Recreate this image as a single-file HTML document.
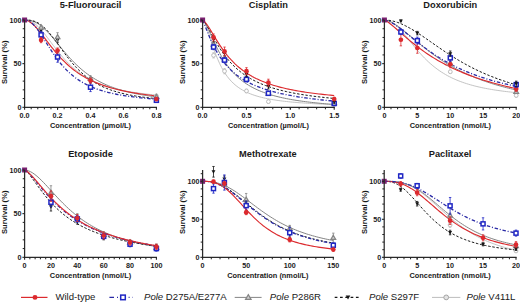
<!DOCTYPE html>
<html><head><meta charset="utf-8"><style>
html,body{margin:0;padding:0;background:#fff;width:520px;height:303px;overflow:hidden}
svg{display:block}
text{font-family:"Liberation Sans", sans-serif;fill:#1a1a1a}
</style></head><body>
<svg width="520" height="303" viewBox="0 0 520 303">
<rect width="520" height="303" fill="#fff"/>
<text x="90.5" y="7.8" font-size="9.25" font-weight="bold" text-anchor="middle">5-Fluorouracil</text>
<path d="M24.60,20.00 L26.51,20.10 L28.42,20.45 L30.33,21.09 L32.24,22.02 L34.15,23.23 L36.06,24.71 L37.97,26.45 L39.88,28.40 L41.79,30.54 L43.70,32.84 L45.61,35.24 L47.52,37.73 L49.43,40.27 L51.34,42.82 L53.25,45.37 L55.16,47.88 L57.07,50.34 L58.98,52.74 L60.89,55.07 L62.80,57.31 L64.71,59.45 L66.62,61.51 L68.53,63.46 L70.44,65.32 L72.35,67.09 L74.26,68.76 L76.17,70.34 L78.08,71.84 L79.99,73.25 L81.90,74.58 L83.81,75.84 L85.72,77.02 L87.63,78.14 L89.54,79.19 L91.46,80.18 L93.37,81.11 L95.28,81.99 L97.19,82.83 L99.10,83.61 L101.01,84.35 L102.92,85.05 L104.83,85.71 L106.74,86.33 L108.65,86.93 L110.56,87.48 L112.47,88.01 L114.38,88.52 L116.29,88.99 L118.20,89.44 L120.11,89.87 L122.02,90.28 L123.93,90.66 L125.84,91.03 L127.75,91.38 L129.66,91.71 L131.57,92.03 L133.48,92.33 L135.39,92.62 L137.30,92.89 L139.21,93.15 L141.12,93.40 L143.03,93.64 L144.94,93.87 L146.85,94.09 L148.76,94.30 L150.67,94.50 L152.58,94.69 L154.49,94.87 L156.40,95.05" fill="none" stroke="#bcbcbc" stroke-width="0.9"/>
<path d="M24.60,20.00 L26.51,20.04 L28.42,20.20 L30.33,20.51 L32.24,21.01 L34.15,21.69 L36.06,22.58 L37.97,23.67 L39.88,24.96 L41.79,26.43 L43.70,28.08 L45.61,29.89 L47.52,31.84 L49.43,33.90 L51.34,36.06 L53.25,38.30 L55.16,40.58 L57.07,42.90 L58.98,45.23 L60.89,47.56 L62.80,49.86 L64.71,52.12 L66.62,54.34 L68.53,56.51 L70.44,58.61 L72.35,60.65 L74.26,62.61 L76.17,64.49 L78.08,66.30 L79.99,68.03 L81.90,69.68 L83.81,71.26 L85.72,72.76 L87.63,74.19 L89.54,75.54 L91.46,76.83 L93.37,78.06 L95.28,79.22 L97.19,80.32 L99.10,81.36 L101.01,82.36 L102.92,83.29 L104.83,84.18 L106.74,85.03 L108.65,85.83 L110.56,86.59 L112.47,87.31 L114.38,87.99 L116.29,88.64 L118.20,89.26 L120.11,89.84 L122.02,90.40 L123.93,90.93 L125.84,91.43 L127.75,91.91 L129.66,92.36 L131.57,92.79 L133.48,93.21 L135.39,93.60 L137.30,93.98 L139.21,94.33 L141.12,94.67 L143.03,95.00 L144.94,95.31 L146.85,95.61 L148.76,95.89 L150.67,96.17 L152.58,96.43 L154.49,96.67 L156.40,96.91" fill="none" stroke="#858585" stroke-width="1.0"/>
<path d="M24.60,20.00 L26.51,20.02 L28.42,20.10 L30.33,20.31 L32.24,20.66 L34.15,21.19 L36.06,21.91 L37.97,22.86 L39.88,24.03 L41.79,25.42 L43.70,27.04 L45.61,28.86 L47.52,30.88 L49.43,33.07 L51.34,35.41 L53.25,37.87 L55.16,40.41 L57.07,43.01 L58.98,45.65 L60.89,48.29 L62.80,50.91 L64.71,53.49 L66.62,56.01 L68.53,58.46 L70.44,60.83 L72.35,63.11 L74.26,65.29 L76.17,67.37 L78.08,69.35 L79.99,71.23 L81.90,73.00 L83.81,74.68 L85.72,76.26 L87.63,77.75 L89.54,79.15 L91.46,80.46 L93.37,81.70 L95.28,82.86 L97.19,83.94 L99.10,84.96 L101.01,85.92 L102.92,86.82 L104.83,87.66 L106.74,88.45 L108.65,89.20 L110.56,89.89 L112.47,90.55 L114.38,91.16 L116.29,91.74 L118.20,92.29 L120.11,92.80 L122.02,93.29 L123.93,93.74 L125.84,94.17 L127.75,94.58 L129.66,94.96 L131.57,95.32 L133.48,95.66 L135.39,95.99 L137.30,96.29 L139.21,96.58 L141.12,96.86 L143.03,97.12 L144.94,97.36 L146.85,97.60 L148.76,97.82 L150.67,98.03 L152.58,98.23 L154.49,98.42 L156.40,98.61" fill="none" stroke="#151515" stroke-width="1.0" stroke-dasharray="2.5,1.7"/>
<path d="M24.60,20.00 L26.51,20.29 L28.42,21.06 L30.33,22.21 L32.24,23.69 L34.15,25.46 L36.06,27.46 L37.97,29.64 L39.88,31.97 L41.79,34.39 L43.70,36.87 L45.61,39.38 L47.52,41.89 L49.43,44.38 L51.34,46.82 L53.25,49.22 L55.16,51.54 L57.07,53.79 L58.98,55.95 L60.89,58.04 L62.80,60.03 L64.71,61.93 L66.62,63.75 L68.53,65.48 L70.44,67.13 L72.35,68.70 L74.26,70.18 L76.17,71.60 L78.08,72.94 L79.99,74.21 L81.90,75.42 L83.81,76.56 L85.72,77.65 L87.63,78.68 L89.54,79.66 L91.46,80.58 L93.37,81.47 L95.28,82.30 L97.19,83.10 L99.10,83.86 L101.01,84.58 L102.92,85.26 L104.83,85.91 L106.74,86.54 L108.65,87.13 L110.56,87.69 L112.47,88.23 L114.38,88.75 L116.29,89.24 L118.20,89.71 L120.11,90.15 L122.02,90.58 L123.93,90.99 L125.84,91.39 L127.75,91.76 L129.66,92.12 L131.57,92.47 L133.48,92.80 L135.39,93.12 L137.30,93.43 L139.21,93.72 L141.12,94.00 L143.03,94.27 L144.94,94.53 L146.85,94.78 L148.76,95.03 L150.67,95.26 L152.58,95.48 L154.49,95.70 L156.40,95.91" fill="none" stroke="#dc2a2e" stroke-width="1.15"/>
<path d="M24.60,20.00 L26.51,20.20 L28.42,20.83 L30.33,21.90 L32.24,23.40 L34.15,25.29 L36.06,27.52 L37.97,30.03 L39.88,32.75 L41.79,35.64 L43.70,38.63 L45.61,41.67 L47.52,44.72 L49.43,47.73 L51.34,50.67 L53.25,53.52 L55.16,56.27 L57.07,58.90 L58.98,61.40 L60.89,63.77 L62.80,66.01 L64.71,68.12 L66.62,70.10 L68.53,71.96 L70.44,73.70 L72.35,75.34 L74.26,76.87 L76.17,78.30 L78.08,79.64 L79.99,80.89 L81.90,82.06 L83.81,83.16 L85.72,84.18 L87.63,85.14 L89.54,86.04 L91.46,86.89 L93.37,87.68 L95.28,88.42 L97.19,89.12 L99.10,89.78 L101.01,90.40 L102.92,90.98 L104.83,91.53 L106.74,92.05 L108.65,92.54 L110.56,93.00 L112.47,93.44 L114.38,93.85 L116.29,94.24 L118.20,94.61 L120.11,94.96 L122.02,95.30 L123.93,95.61 L125.84,95.91 L127.75,96.20 L129.66,96.47 L131.57,96.73 L133.48,96.98 L135.39,97.21 L137.30,97.44 L139.21,97.65 L141.12,97.85 L143.03,98.05 L144.94,98.24 L146.85,98.41 L148.76,98.59 L150.67,98.75 L152.58,98.91 L154.49,99.06 L156.40,99.20" fill="none" stroke="#2a2aa6" stroke-width="1.3" stroke-dasharray="3.5,1.8,1,1.8"/>
<path d="M156.40,94.20 V97.70 M155.20,94.20 H157.60 M155.20,97.70 H157.60" stroke="#bcbcbc" stroke-width="0.8" fill="none"/>
<circle cx="156.40" cy="95.95" r="1.90" fill="#fff" stroke="#bcbcbc" stroke-width="1"/>
<path d="M41.08,28.73 V32.22 M39.88,28.73 H42.28 M39.88,32.22 H42.28" stroke="#151515" stroke-width="0.8" fill="none"/>
<path d="M39.12,29.03 L43.03,29.03 L41.08,32.52Z" fill="#151515"/>
<path d="M57.55,37.46 V42.70 M56.35,37.46 H58.75 M56.35,42.70 H58.75" stroke="#151515" stroke-width="0.8" fill="none"/>
<path d="M55.60,38.63 L59.51,38.63 L57.55,42.12Z" fill="#151515"/>
<path d="M90.50,79.36 V82.86 M89.30,79.36 H91.70 M89.30,82.86 H91.70" stroke="#151515" stroke-width="0.8" fill="none"/>
<path d="M88.55,79.67 L92.45,79.67 L90.50,83.15Z" fill="#151515"/>
<path d="M156.40,96.82 V100.32 M155.20,96.82 H157.60 M155.20,100.32 H157.60" stroke="#151515" stroke-width="0.8" fill="none"/>
<path d="M154.44,97.12 L158.36,97.12 L156.40,100.61Z" fill="#151515"/>
<path d="M41.08,25.67 V29.17 M39.88,25.67 H42.28 M39.88,29.17 H42.28" stroke="#858585" stroke-width="0.8" fill="none"/>
<path d="M41.08,25.02 L43.48,29.12 L38.68,29.12Z" fill="#d0d0d0" stroke="#858585" stroke-width="1.2"/>
<path d="M57.55,32.66 V41.39 M56.35,32.66 H58.75 M56.35,41.39 H58.75" stroke="#858585" stroke-width="0.8" fill="none"/>
<path d="M57.55,34.62 L59.95,38.72 L55.15,38.72Z" fill="#d0d0d0" stroke="#858585" stroke-width="1.2"/>
<path d="M90.50,75.87 V81.11 M89.30,75.87 H91.70 M89.30,81.11 H91.70" stroke="#858585" stroke-width="0.8" fill="none"/>
<path d="M90.50,76.09 L92.90,80.19 L88.10,80.19Z" fill="#d0d0d0" stroke="#858585" stroke-width="1.2"/>
<path d="M156.40,95.08 V98.57 M155.20,95.08 H157.60 M155.20,98.57 H157.60" stroke="#858585" stroke-width="0.8" fill="none"/>
<path d="M156.40,94.42 L158.80,98.52 L154.00,98.52Z" fill="#d0d0d0" stroke="#858585" stroke-width="1.2"/>
<path d="M41.08,31.35 V38.33 M39.88,31.35 H42.28 M39.88,38.33 H42.28" stroke="#1f26c4" stroke-width="0.8" fill="none"/>
<rect x="39.08" y="32.84" width="4.00" height="4.00" fill="#fff" stroke="#1f26c4" stroke-width="1.5"/>
<path d="M57.55,51.78 V62.25 M56.35,51.78 H58.75 M56.35,62.25 H58.75" stroke="#1f26c4" stroke-width="0.8" fill="none"/>
<rect x="55.55" y="55.02" width="4.00" height="4.00" fill="#fff" stroke="#1f26c4" stroke-width="1.5"/>
<path d="M90.50,82.86 V91.59 M89.30,82.86 H91.70 M89.30,91.59 H91.70" stroke="#1f26c4" stroke-width="0.8" fill="none"/>
<rect x="88.50" y="85.22" width="4.00" height="4.00" fill="#fff" stroke="#1f26c4" stroke-width="1.5"/>
<path d="M156.40,98.57 V102.06 M155.20,98.57 H157.60 M155.20,102.06 H157.60" stroke="#1f26c4" stroke-width="0.8" fill="none"/>
<rect x="154.40" y="98.32" width="4.00" height="4.00" fill="#fff" stroke="#1f26c4" stroke-width="1.5"/>
<path d="M41.08,37.46 V42.70 M39.88,37.46 H42.28 M39.88,42.70 H42.28" stroke="#dc2a2e" stroke-width="0.8" fill="none"/>
<circle cx="41.08" cy="40.08" r="2.35" fill="#dc2a2e"/>
<path d="M57.55,47.94 V53.17 M56.35,47.94 H58.75 M56.35,53.17 H58.75" stroke="#dc2a2e" stroke-width="0.8" fill="none"/>
<circle cx="57.55" cy="50.55" r="2.35" fill="#dc2a2e"/>
<path d="M90.50,77.97 V83.21 M89.30,77.97 H91.70 M89.30,83.21 H91.70" stroke="#dc2a2e" stroke-width="0.8" fill="none"/>
<circle cx="90.50" cy="80.59" r="2.35" fill="#dc2a2e"/>
<path d="M156.40,97.26 V100.75 M155.20,97.26 H157.60 M155.20,100.75 H157.60" stroke="#dc2a2e" stroke-width="0.8" fill="none"/>
<circle cx="156.40" cy="99.01" r="2.35" fill="#dc2a2e"/>
<rect x="22.10" y="17.50" width="5" height="5" fill="#7a2070"/>
<path d="M24.60,20.00 V107.30 H157.00" fill="none" stroke="#2a2a2a" stroke-width="1.25"/>
<path d="M22.40,107.30 H24.60" stroke="#222" stroke-width="1.1"/>
<text x="21.60" y="109.90" font-size="7.2" font-weight="bold" text-anchor="end">0</text>
<path d="M22.40,63.65 H24.60" stroke="#222" stroke-width="1.1"/>
<text x="21.60" y="66.25" font-size="7.2" font-weight="bold" text-anchor="end">50</text>
<path d="M22.40,20.00 H24.60" stroke="#222" stroke-width="1.1"/>
<text x="21.60" y="22.60" font-size="7.2" font-weight="bold" text-anchor="end">100</text>
<path d="M22.70,98.57 H24.60" stroke="#222" stroke-width="1"/>
<path d="M22.70,89.84 H24.60" stroke="#222" stroke-width="1"/>
<path d="M22.70,81.11 H24.60" stroke="#222" stroke-width="1"/>
<path d="M22.70,72.38 H24.60" stroke="#222" stroke-width="1"/>
<path d="M22.70,54.92 H24.60" stroke="#222" stroke-width="1"/>
<path d="M22.70,46.19 H24.60" stroke="#222" stroke-width="1"/>
<path d="M22.70,37.46 H24.60" stroke="#222" stroke-width="1"/>
<path d="M22.70,28.73 H24.60" stroke="#222" stroke-width="1"/>
<path d="M24.60,107.30 V109.70" stroke="#222" stroke-width="1.1"/>
<text x="24.60" y="118.20" font-size="7.2" font-weight="bold" text-anchor="middle">0.0</text>
<path d="M57.55,107.30 V109.70" stroke="#222" stroke-width="1.1"/>
<text x="57.55" y="118.20" font-size="7.2" font-weight="bold" text-anchor="middle">0.2</text>
<path d="M90.50,107.30 V109.70" stroke="#222" stroke-width="1.1"/>
<text x="90.50" y="118.20" font-size="7.2" font-weight="bold" text-anchor="middle">0.4</text>
<path d="M123.45,107.30 V109.70" stroke="#222" stroke-width="1.1"/>
<text x="123.45" y="118.20" font-size="7.2" font-weight="bold" text-anchor="middle">0.6</text>
<path d="M156.40,107.30 V109.70" stroke="#222" stroke-width="1.1"/>
<text x="156.40" y="118.20" font-size="7.2" font-weight="bold" text-anchor="middle">0.8</text>
<path d="M31.19,107.30 V109.30" stroke="#222" stroke-width="1"/>
<path d="M37.78,107.30 V109.30" stroke="#222" stroke-width="1"/>
<path d="M44.37,107.30 V109.30" stroke="#222" stroke-width="1"/>
<path d="M50.96,107.30 V109.30" stroke="#222" stroke-width="1"/>
<path d="M57.55,107.30 V109.30" stroke="#222" stroke-width="1"/>
<path d="M64.14,107.30 V109.30" stroke="#222" stroke-width="1"/>
<path d="M70.73,107.30 V109.30" stroke="#222" stroke-width="1"/>
<path d="M77.32,107.30 V109.30" stroke="#222" stroke-width="1"/>
<path d="M83.91,107.30 V109.30" stroke="#222" stroke-width="1"/>
<path d="M90.50,107.30 V109.30" stroke="#222" stroke-width="1"/>
<path d="M97.09,107.30 V109.30" stroke="#222" stroke-width="1"/>
<path d="M103.68,107.30 V109.30" stroke="#222" stroke-width="1"/>
<path d="M110.27,107.30 V109.30" stroke="#222" stroke-width="1"/>
<path d="M116.86,107.30 V109.30" stroke="#222" stroke-width="1"/>
<path d="M123.45,107.30 V109.30" stroke="#222" stroke-width="1"/>
<path d="M130.04,107.30 V109.30" stroke="#222" stroke-width="1"/>
<path d="M136.63,107.30 V109.30" stroke="#222" stroke-width="1"/>
<path d="M143.22,107.30 V109.30" stroke="#222" stroke-width="1"/>
<path d="M149.81,107.30 V109.30" stroke="#222" stroke-width="1"/>
<text x="90.5" y="128.00" font-size="7.4" font-weight="bold" text-anchor="middle">Concentration (µmol/L)</text>
<text transform="translate(7.20,62.30) rotate(-90)" x="0" y="0" font-size="7.6" font-weight="bold" text-anchor="middle">Survival (%)</text>
<text x="268.4" y="7.8" font-size="9.25" font-weight="bold" text-anchor="middle">Cisplatin</text>
<path d="M202.60,20.00 L204.51,22.30 L206.41,26.81 L208.32,32.36 L210.23,38.28 L212.14,44.15 L214.04,49.72 L215.95,54.88 L217.86,59.57 L219.77,63.80 L221.67,67.58 L223.58,70.95 L225.49,73.96 L227.39,76.64 L229.30,79.03 L231.21,81.16 L233.12,83.07 L235.02,84.79 L236.93,86.34 L238.84,87.73 L240.74,88.99 L242.65,90.14 L244.56,91.18 L246.47,92.13 L248.37,92.99 L250.28,93.79 L252.19,94.52 L254.10,95.19 L256.00,95.81 L257.91,96.38 L259.82,96.91 L261.72,97.40 L263.63,97.86 L265.54,98.29 L267.45,98.69 L269.35,99.06 L271.26,99.40 L273.17,99.73 L275.08,100.03 L276.98,100.32 L278.89,100.59 L280.80,100.85 L282.70,101.09 L284.61,101.31 L286.52,101.53 L288.43,101.73 L290.33,101.92 L292.24,102.10 L294.15,102.28 L296.06,102.44 L297.96,102.60 L299.87,102.75 L301.78,102.89 L303.68,103.02 L305.59,103.15 L307.50,103.28 L309.41,103.39 L311.31,103.51 L313.22,103.61 L315.13,103.72 L317.03,103.82 L318.94,103.91 L320.85,104.00 L322.76,104.09 L324.66,104.17 L326.57,104.26 L328.48,104.33 L330.39,104.41 L332.29,104.48 L334.20,104.55" fill="none" stroke="#bcbcbc" stroke-width="0.9"/>
<path d="M202.60,20.00 L204.51,21.95 L206.41,25.27 L208.32,29.19 L210.23,33.38 L212.14,37.63 L214.04,41.81 L215.95,45.84 L217.86,49.68 L219.77,53.29 L221.67,56.68 L223.58,59.83 L225.49,62.77 L227.39,65.49 L229.30,68.01 L231.21,70.35 L233.12,72.51 L235.02,74.52 L236.93,76.38 L238.84,78.11 L240.74,79.71 L242.65,81.21 L244.56,82.60 L246.47,83.89 L248.37,85.10 L250.28,86.23 L252.19,87.29 L254.10,88.28 L256.00,89.21 L257.91,90.08 L259.82,90.90 L261.72,91.67 L263.63,92.40 L265.54,93.09 L267.45,93.73 L269.35,94.35 L271.26,94.93 L273.17,95.48 L275.08,96.00 L276.98,96.49 L278.89,96.96 L280.80,97.41 L282.70,97.84 L284.61,98.24 L286.52,98.63 L288.43,99.00 L290.33,99.35 L292.24,99.69 L294.15,100.01 L296.06,100.32 L297.96,100.61 L299.87,100.90 L301.78,101.17 L303.68,101.43 L305.59,101.68 L307.50,101.92 L309.41,102.15 L311.31,102.37 L313.22,102.58 L315.13,102.79 L317.03,102.99 L318.94,103.18 L320.85,103.36 L322.76,103.54 L324.66,103.71 L326.57,103.88 L328.48,104.04 L330.39,104.19 L332.29,104.34 L334.20,104.49" fill="none" stroke="#858585" stroke-width="1.0"/>
<path d="M202.60,20.00 L204.51,24.41 L206.41,29.37 L208.32,34.19 L210.23,38.73 L212.14,42.93 L214.04,46.81 L215.95,50.37 L217.86,53.64 L219.77,56.64 L221.67,59.40 L223.58,61.94 L225.49,64.29 L227.39,66.45 L229.30,68.46 L231.21,70.32 L233.12,72.05 L235.02,73.65 L236.93,75.15 L238.84,76.55 L240.74,77.86 L242.65,79.09 L244.56,80.25 L246.47,81.33 L248.37,82.35 L250.28,83.31 L252.19,84.22 L254.10,85.08 L256.00,85.90 L257.91,86.67 L259.82,87.40 L261.72,88.10 L263.63,88.76 L265.54,89.39 L267.45,89.99 L269.35,90.56 L271.26,91.11 L273.17,91.63 L275.08,92.13 L276.98,92.61 L278.89,93.07 L280.80,93.51 L282.70,93.94 L284.61,94.34 L286.52,94.73 L288.43,95.10 L290.33,95.47 L292.24,95.81 L294.15,96.15 L296.06,96.47 L297.96,96.78 L299.87,97.08 L301.78,97.37 L303.68,97.65 L305.59,97.92 L307.50,98.18 L309.41,98.44 L311.31,98.68 L313.22,98.92 L315.13,99.15 L317.03,99.37 L318.94,99.59 L320.85,99.80 L322.76,100.00 L324.66,100.20 L326.57,100.39 L328.48,100.58 L330.39,100.76 L332.29,100.94 L334.20,101.11" fill="none" stroke="#2a2aa6" stroke-width="1.3" stroke-dasharray="3.5,1.8,1,1.8"/>
<path d="M202.60,20.00 L204.51,21.86 L206.41,24.75 L208.32,28.06 L210.23,31.55 L212.14,35.07 L214.04,38.54 L215.95,41.90 L217.86,45.13 L219.77,48.20 L221.67,51.10 L223.58,53.84 L225.49,56.42 L227.39,58.84 L229.30,61.11 L231.21,63.23 L233.12,65.23 L235.02,67.09 L236.93,68.84 L238.84,70.49 L240.74,72.03 L242.65,73.47 L244.56,74.83 L246.47,76.11 L248.37,77.32 L250.28,78.45 L252.19,79.52 L254.10,80.53 L256.00,81.48 L257.91,82.39 L259.82,83.24 L261.72,84.05 L263.63,84.82 L265.54,85.55 L267.45,86.24 L269.35,86.90 L271.26,87.53 L273.17,88.13 L275.08,88.70 L276.98,89.24 L278.89,89.76 L280.80,90.25 L282.70,90.73 L284.61,91.18 L286.52,91.61 L288.43,92.03 L290.33,92.43 L292.24,92.81 L294.15,93.18 L296.06,93.53 L297.96,93.87 L299.87,94.20 L301.78,94.51 L303.68,94.81 L305.59,95.10 L307.50,95.38 L309.41,95.65 L311.31,95.91 L313.22,96.17 L315.13,96.41 L317.03,96.64 L318.94,96.87 L320.85,97.09 L322.76,97.30 L324.66,97.51 L326.57,97.71 L328.48,97.90 L330.39,98.09 L332.29,98.27 L334.20,98.44" fill="none" stroke="#151515" stroke-width="1.0" stroke-dasharray="2.5,1.7"/>
<path d="M202.60,20.00 L204.51,21.38 L206.41,23.73 L208.32,26.54 L210.23,29.60 L212.14,32.76 L214.04,35.95 L215.95,39.09 L217.86,42.15 L219.77,45.09 L221.67,47.91 L223.58,50.59 L225.49,53.13 L227.39,55.53 L229.30,57.79 L231.21,59.92 L233.12,61.92 L235.02,63.80 L236.93,65.57 L238.84,67.23 L240.74,68.80 L242.65,70.27 L244.56,71.65 L246.47,72.95 L248.37,74.18 L250.28,75.33 L252.19,76.42 L254.10,77.45 L256.00,78.42 L257.91,79.34 L259.82,80.21 L261.72,81.04 L263.63,81.82 L265.54,82.56 L267.45,83.27 L269.35,83.94 L271.26,84.57 L273.17,85.18 L275.08,85.76 L276.98,86.30 L278.89,86.83 L280.80,87.33 L282.70,87.81 L284.61,88.27 L286.52,88.70 L288.43,89.12 L290.33,89.52 L292.24,89.91 L294.15,90.28 L296.06,90.63 L297.96,90.97 L299.87,91.30 L301.78,91.61 L303.68,91.91 L305.59,92.20 L307.50,92.48 L309.41,92.75 L311.31,93.01 L313.22,93.26 L315.13,93.50 L317.03,93.74 L318.94,93.96 L320.85,94.18 L322.76,94.39 L324.66,94.59 L326.57,94.79 L328.48,94.98 L330.39,95.16 L332.29,95.34 L334.20,95.51" fill="none" stroke="#dc2a2e" stroke-width="1.15"/>
<path d="M213.57,52.74 V57.98 M212.37,52.74 H214.77 M212.37,57.98 H214.77" stroke="#bcbcbc" stroke-width="0.8" fill="none"/>
<circle cx="213.57" cy="55.36" r="1.90" fill="#fff" stroke="#bcbcbc" stroke-width="1"/>
<path d="M224.53,68.54 V73.78 M223.33,68.54 H225.73 M223.33,73.78 H225.73" stroke="#bcbcbc" stroke-width="0.8" fill="none"/>
<circle cx="224.53" cy="71.16" r="1.90" fill="#fff" stroke="#bcbcbc" stroke-width="1"/>
<path d="M246.47,89.23 V92.72 M245.27,89.23 H247.67 M245.27,92.72 H247.67" stroke="#bcbcbc" stroke-width="0.8" fill="none"/>
<circle cx="246.47" cy="90.97" r="1.90" fill="#fff" stroke="#bcbcbc" stroke-width="1"/>
<path d="M268.40,99.88 V103.37 M267.20,99.88 H269.60 M267.20,103.37 H269.60" stroke="#bcbcbc" stroke-width="0.8" fill="none"/>
<circle cx="268.40" cy="101.63" r="1.90" fill="#fff" stroke="#bcbcbc" stroke-width="1"/>
<path d="M334.20,103.81 V105.55 M333.00,103.81 H335.40 M333.00,105.55 H335.40" stroke="#bcbcbc" stroke-width="0.8" fill="none"/>
<circle cx="334.20" cy="104.68" r="1.90" fill="#fff" stroke="#bcbcbc" stroke-width="1"/>
<path d="M213.57,41.83 V47.06 M212.37,41.83 H214.77 M212.37,47.06 H214.77" stroke="#858585" stroke-width="0.8" fill="none"/>
<path d="M213.57,42.04 L215.97,46.14 L211.17,46.14Z" fill="#d0d0d0" stroke="#858585" stroke-width="1.2"/>
<path d="M224.53,56.67 V61.90 M223.33,56.67 H225.73 M223.33,61.90 H225.73" stroke="#858585" stroke-width="0.8" fill="none"/>
<path d="M224.53,56.88 L226.93,60.98 L222.13,60.98Z" fill="#d0d0d0" stroke="#858585" stroke-width="1.2"/>
<path d="M246.47,75.87 V81.11 M245.27,75.87 H247.67 M245.27,81.11 H247.67" stroke="#858585" stroke-width="0.8" fill="none"/>
<path d="M246.47,76.09 L248.87,80.19 L244.07,80.19Z" fill="#d0d0d0" stroke="#858585" stroke-width="1.2"/>
<path d="M268.40,91.59 V95.08 M267.20,91.59 H269.60 M267.20,95.08 H269.60" stroke="#858585" stroke-width="0.8" fill="none"/>
<path d="M268.40,90.93 L270.80,95.03 L266.00,95.03Z" fill="#d0d0d0" stroke="#858585" stroke-width="1.2"/>
<path d="M334.20,102.06 V103.81 M333.00,102.06 H335.40 M333.00,103.81 H335.40" stroke="#858585" stroke-width="0.8" fill="none"/>
<path d="M334.20,100.53 L336.60,104.64 L331.80,104.64Z" fill="#d0d0d0" stroke="#858585" stroke-width="1.2"/>
<path d="M213.57,44.44 V49.68 M212.37,44.44 H214.77 M212.37,49.68 H214.77" stroke="#1f26c4" stroke-width="0.8" fill="none"/>
<rect x="211.57" y="45.06" width="4.00" height="4.00" fill="#fff" stroke="#1f26c4" stroke-width="1.5"/>
<path d="M224.53,57.54 V62.78 M223.33,57.54 H225.73 M223.33,62.78 H225.73" stroke="#1f26c4" stroke-width="0.8" fill="none"/>
<rect x="222.53" y="58.16" width="4.00" height="4.00" fill="#fff" stroke="#1f26c4" stroke-width="1.5"/>
<path d="M246.47,76.75 V81.98 M245.27,76.75 H247.67 M245.27,81.98 H247.67" stroke="#1f26c4" stroke-width="0.8" fill="none"/>
<rect x="244.47" y="77.36" width="4.00" height="4.00" fill="#fff" stroke="#1f26c4" stroke-width="1.5"/>
<path d="M268.40,91.59 V95.08 M267.20,91.59 H269.60 M267.20,95.08 H269.60" stroke="#1f26c4" stroke-width="0.8" fill="none"/>
<rect x="266.40" y="91.33" width="4.00" height="4.00" fill="#fff" stroke="#1f26c4" stroke-width="1.5"/>
<path d="M334.20,101.71 V105.20 M333.00,101.71 H335.40 M333.00,105.20 H335.40" stroke="#1f26c4" stroke-width="0.8" fill="none"/>
<rect x="332.20" y="101.46" width="4.00" height="4.00" fill="#fff" stroke="#1f26c4" stroke-width="1.5"/>
<path d="M213.57,36.59 V41.83 M212.37,36.59 H214.77 M212.37,41.83 H214.77" stroke="#151515" stroke-width="0.8" fill="none"/>
<path d="M211.61,37.76 L215.52,37.76 L213.57,41.25Z" fill="#151515"/>
<path d="M224.53,50.55 V55.79 M223.33,50.55 H225.73 M223.33,55.79 H225.73" stroke="#151515" stroke-width="0.8" fill="none"/>
<path d="M222.58,51.73 L226.49,51.73 L224.53,55.21Z" fill="#151515"/>
<path d="M246.47,71.51 V76.75 M245.27,71.51 H247.67 M245.27,76.75 H247.67" stroke="#151515" stroke-width="0.8" fill="none"/>
<path d="M244.51,72.68 L248.42,72.68 L246.47,76.17Z" fill="#151515"/>
<path d="M268.40,83.73 V88.97 M267.20,83.73 H269.60 M267.20,88.97 H269.60" stroke="#151515" stroke-width="0.8" fill="none"/>
<path d="M266.44,84.90 L270.35,84.90 L268.40,88.39Z" fill="#151515"/>
<path d="M334.20,100.32 V103.81 M333.00,100.32 H335.40 M333.00,103.81 H335.40" stroke="#151515" stroke-width="0.8" fill="none"/>
<path d="M332.25,100.62 L336.15,100.62 L334.20,104.10Z" fill="#151515"/>
<path d="M213.57,33.97 V40.95 M212.37,33.97 H214.77 M212.37,40.95 H214.77" stroke="#dc2a2e" stroke-width="0.8" fill="none"/>
<circle cx="213.57" cy="37.46" r="2.35" fill="#dc2a2e"/>
<path d="M224.53,47.06 V55.79 M223.33,47.06 H225.73 M223.33,55.79 H225.73" stroke="#dc2a2e" stroke-width="0.8" fill="none"/>
<circle cx="224.53" cy="51.43" r="2.35" fill="#dc2a2e"/>
<path d="M246.47,67.67 V74.65 M245.27,67.67 H247.67 M245.27,74.65 H247.67" stroke="#dc2a2e" stroke-width="0.8" fill="none"/>
<circle cx="246.47" cy="71.16" r="2.35" fill="#dc2a2e"/>
<path d="M268.40,79.19 V86.17 M267.20,79.19 H269.60 M267.20,86.17 H269.60" stroke="#dc2a2e" stroke-width="0.8" fill="none"/>
<circle cx="268.40" cy="82.68" r="2.35" fill="#dc2a2e"/>
<path d="M334.20,97.26 V100.75 M333.00,97.26 H335.40 M333.00,100.75 H335.40" stroke="#dc2a2e" stroke-width="0.8" fill="none"/>
<circle cx="334.20" cy="99.01" r="2.35" fill="#dc2a2e"/>
<rect x="200.10" y="17.50" width="5" height="5" fill="#7a2070"/>
<path d="M202.60,20.00 V107.30 H334.80" fill="none" stroke="#2a2a2a" stroke-width="1.25"/>
<path d="M200.40,107.30 H202.60" stroke="#222" stroke-width="1.1"/>
<text x="199.60" y="109.90" font-size="7.2" font-weight="bold" text-anchor="end">0</text>
<path d="M200.40,63.65 H202.60" stroke="#222" stroke-width="1.1"/>
<text x="199.60" y="66.25" font-size="7.2" font-weight="bold" text-anchor="end">50</text>
<path d="M200.40,20.00 H202.60" stroke="#222" stroke-width="1.1"/>
<text x="199.60" y="22.60" font-size="7.2" font-weight="bold" text-anchor="end">100</text>
<path d="M200.70,98.57 H202.60" stroke="#222" stroke-width="1"/>
<path d="M200.70,89.84 H202.60" stroke="#222" stroke-width="1"/>
<path d="M200.70,81.11 H202.60" stroke="#222" stroke-width="1"/>
<path d="M200.70,72.38 H202.60" stroke="#222" stroke-width="1"/>
<path d="M200.70,54.92 H202.60" stroke="#222" stroke-width="1"/>
<path d="M200.70,46.19 H202.60" stroke="#222" stroke-width="1"/>
<path d="M200.70,37.46 H202.60" stroke="#222" stroke-width="1"/>
<path d="M200.70,28.73 H202.60" stroke="#222" stroke-width="1"/>
<path d="M202.60,107.30 V109.70" stroke="#222" stroke-width="1.1"/>
<text x="202.60" y="118.20" font-size="7.2" font-weight="bold" text-anchor="middle">0.0</text>
<path d="M246.47,107.30 V109.70" stroke="#222" stroke-width="1.1"/>
<text x="246.47" y="118.20" font-size="7.2" font-weight="bold" text-anchor="middle">0.5</text>
<path d="M290.33,107.30 V109.70" stroke="#222" stroke-width="1.1"/>
<text x="290.33" y="118.20" font-size="7.2" font-weight="bold" text-anchor="middle">1.0</text>
<path d="M334.20,107.30 V109.70" stroke="#222" stroke-width="1.1"/>
<text x="334.20" y="118.20" font-size="7.2" font-weight="bold" text-anchor="middle">1.5</text>
<path d="M211.37,107.30 V109.30" stroke="#222" stroke-width="1"/>
<path d="M220.15,107.30 V109.30" stroke="#222" stroke-width="1"/>
<path d="M228.92,107.30 V109.30" stroke="#222" stroke-width="1"/>
<path d="M237.69,107.30 V109.30" stroke="#222" stroke-width="1"/>
<path d="M246.47,107.30 V109.30" stroke="#222" stroke-width="1"/>
<path d="M255.24,107.30 V109.30" stroke="#222" stroke-width="1"/>
<path d="M264.01,107.30 V109.30" stroke="#222" stroke-width="1"/>
<path d="M272.79,107.30 V109.30" stroke="#222" stroke-width="1"/>
<path d="M281.56,107.30 V109.30" stroke="#222" stroke-width="1"/>
<path d="M290.33,107.30 V109.30" stroke="#222" stroke-width="1"/>
<path d="M299.11,107.30 V109.30" stroke="#222" stroke-width="1"/>
<path d="M307.88,107.30 V109.30" stroke="#222" stroke-width="1"/>
<path d="M316.65,107.30 V109.30" stroke="#222" stroke-width="1"/>
<path d="M325.43,107.30 V109.30" stroke="#222" stroke-width="1"/>
<text x="268.4" y="128.00" font-size="7.4" font-weight="bold" text-anchor="middle">Concentration (µmol/L)</text>
<text transform="translate(185.20,62.30) rotate(-90)" x="0" y="0" font-size="7.6" font-weight="bold" text-anchor="middle">Survival (%)</text>
<text x="450.3" y="7.8" font-size="9.25" font-weight="bold" text-anchor="middle">Doxorubicin</text>
<path d="M384.40,20.00 L386.31,20.14 L388.22,20.57 L390.13,21.30 L392.04,22.32 L393.95,23.62 L395.86,25.16 L397.77,26.93 L399.68,28.88 L401.59,30.98 L403.50,33.20 L405.41,35.50 L407.32,37.86 L409.23,40.25 L411.14,42.64 L413.05,45.01 L414.96,47.34 L416.87,49.62 L418.78,51.84 L420.69,53.99 L422.60,56.06 L424.51,58.05 L426.42,59.95 L428.33,61.77 L430.24,63.50 L432.15,65.15 L434.06,66.71 L435.97,68.20 L437.88,69.61 L439.79,70.94 L441.70,72.21 L443.61,73.40 L445.52,74.54 L447.43,75.61 L449.34,76.62 L451.26,77.58 L453.17,78.49 L455.08,79.35 L456.99,80.16 L458.90,80.93 L460.81,81.66 L462.72,82.35 L464.63,83.01 L466.54,83.63 L468.45,84.22 L470.36,84.79 L472.27,85.32 L474.18,85.83 L476.09,86.31 L478.00,86.77 L479.91,87.20 L481.82,87.62 L483.73,88.02 L485.64,88.40 L487.55,88.76 L489.46,89.10 L491.37,89.43 L493.28,89.75 L495.19,90.05 L497.10,90.33 L499.01,90.61 L500.92,90.87 L502.83,91.13 L504.74,91.37 L506.65,91.60 L508.56,91.82 L510.47,92.04 L512.38,92.24 L514.29,92.44 L516.20,92.63" fill="none" stroke="#bcbcbc" stroke-width="0.9"/>
<path d="M384.40,20.00 L386.31,20.28 L388.22,20.86 L390.13,21.64 L392.04,22.59 L393.95,23.68 L395.86,24.88 L397.77,26.18 L399.68,27.56 L401.59,29.00 L403.50,30.49 L405.41,32.02 L407.32,33.58 L409.23,35.16 L411.14,36.75 L413.05,38.35 L414.96,39.94 L416.87,41.53 L418.78,43.11 L420.69,44.68 L422.60,46.23 L424.51,47.75 L426.42,49.25 L428.33,50.73 L430.24,52.17 L432.15,53.59 L434.06,54.98 L435.97,56.34 L437.88,57.67 L439.79,58.96 L441.70,60.23 L443.61,61.46 L445.52,62.66 L447.43,63.83 L449.34,64.97 L451.26,66.08 L453.17,67.15 L455.08,68.20 L456.99,69.22 L458.90,70.21 L460.81,71.18 L462.72,72.11 L464.63,73.02 L466.54,73.91 L468.45,74.77 L470.36,75.60 L472.27,76.41 L474.18,77.20 L476.09,77.97 L478.00,78.71 L479.91,79.44 L481.82,80.14 L483.73,80.83 L485.64,81.49 L487.55,82.14 L489.46,82.77 L491.37,83.38 L493.28,83.97 L495.19,84.55 L497.10,85.11 L499.01,85.66 L500.92,86.19 L502.83,86.71 L504.74,87.22 L506.65,87.71 L508.56,88.19 L510.47,88.65 L512.38,89.11 L514.29,89.55 L516.20,89.98" fill="none" stroke="#858585" stroke-width="1.0"/>
<path d="M384.40,20.00 L386.31,20.93 L388.22,22.23 L390.13,23.70 L392.04,25.26 L393.95,26.89 L395.86,28.55 L397.77,30.23 L399.68,31.92 L401.59,33.60 L403.50,35.27 L405.41,36.92 L407.32,38.55 L409.23,40.16 L411.14,41.73 L413.05,43.28 L414.96,44.80 L416.87,46.28 L418.78,47.73 L420.69,49.15 L422.60,50.53 L424.51,51.88 L426.42,53.19 L428.33,54.48 L430.24,55.73 L432.15,56.94 L434.06,58.13 L435.97,59.29 L437.88,60.41 L439.79,61.51 L441.70,62.57 L443.61,63.61 L445.52,64.62 L447.43,65.61 L449.34,66.57 L451.26,67.50 L453.17,68.41 L455.08,69.30 L456.99,70.16 L458.90,71.00 L460.81,71.82 L462.72,72.62 L464.63,73.40 L466.54,74.15 L468.45,74.89 L470.36,75.61 L472.27,76.32 L474.18,77.00 L476.09,77.67 L478.00,78.32 L479.91,78.96 L481.82,79.58 L483.73,80.19 L485.64,80.78 L487.55,81.36 L489.46,81.92 L491.37,82.48 L493.28,83.01 L495.19,83.54 L497.10,84.06 L499.01,84.56 L500.92,85.05 L502.83,85.53 L504.74,86.00 L506.65,86.46 L508.56,86.91 L510.47,87.35 L512.38,87.78 L514.29,88.20 L516.20,88.62" fill="none" stroke="#dc2a2e" stroke-width="1.15"/>
<path d="M384.40,20.00 L386.31,20.34 L388.22,21.00 L390.13,21.86 L392.04,22.88 L393.95,24.03 L395.86,25.28 L397.77,26.62 L399.68,28.02 L401.59,29.47 L403.50,30.95 L405.41,32.47 L407.32,34.00 L409.23,35.54 L411.14,37.09 L413.05,38.63 L414.96,40.16 L416.87,41.68 L418.78,43.18 L420.69,44.66 L422.60,46.12 L424.51,47.56 L426.42,48.96 L428.33,50.34 L430.24,51.69 L432.15,53.01 L434.06,54.29 L435.97,55.55 L437.88,56.78 L439.79,57.97 L441.70,59.13 L443.61,60.27 L445.52,61.37 L447.43,62.44 L449.34,63.48 L451.26,64.50 L453.17,65.48 L455.08,66.44 L456.99,67.37 L458.90,68.28 L460.81,69.16 L462.72,70.01 L464.63,70.84 L466.54,71.64 L468.45,72.43 L470.36,73.19 L472.27,73.93 L474.18,74.65 L476.09,75.34 L478.00,76.02 L479.91,76.68 L481.82,77.32 L483.73,77.94 L485.64,78.55 L487.55,79.14 L489.46,79.71 L491.37,80.27 L493.28,80.81 L495.19,81.34 L497.10,81.85 L499.01,82.35 L500.92,82.84 L502.83,83.31 L504.74,83.77 L506.65,84.22 L508.56,84.66 L510.47,85.09 L512.38,85.50 L514.29,85.91 L516.20,86.30" fill="none" stroke="#2a2aa6" stroke-width="1.3" stroke-dasharray="3.5,1.8,1,1.8"/>
<path d="M384.40,20.00 L386.31,20.06 L388.22,20.22 L390.13,20.49 L392.04,20.85 L393.95,21.31 L395.86,21.86 L397.77,22.49 L399.68,23.20 L401.59,23.99 L403.50,24.85 L405.41,25.77 L407.32,26.76 L409.23,27.80 L411.14,28.89 L413.05,30.03 L414.96,31.21 L416.87,32.42 L418.78,33.66 L420.69,34.93 L422.60,36.22 L424.51,37.53 L426.42,38.85 L428.33,40.18 L430.24,41.51 L432.15,42.85 L434.06,44.18 L435.97,45.51 L437.88,46.84 L439.79,48.15 L441.70,49.46 L443.61,50.75 L445.52,52.02 L447.43,53.28 L449.34,54.53 L451.26,55.75 L453.17,56.96 L455.08,58.14 L456.99,59.30 L458.90,60.45 L460.81,61.56 L462.72,62.66 L464.63,63.74 L466.54,64.79 L468.45,65.81 L470.36,66.82 L472.27,67.80 L474.18,68.76 L476.09,69.70 L478.00,70.61 L479.91,71.51 L481.82,72.38 L483.73,73.23 L485.64,74.06 L487.55,74.87 L489.46,75.65 L491.37,76.42 L493.28,77.17 L495.19,77.90 L497.10,78.61 L499.01,79.30 L500.92,79.98 L502.83,80.63 L504.74,81.27 L506.65,81.90 L508.56,82.51 L510.47,83.10 L512.38,83.67 L514.29,84.24 L516.20,84.78" fill="none" stroke="#151515" stroke-width="1.0" stroke-dasharray="2.5,1.7"/>
<path d="M450.30,70.02 V73.51 M449.10,70.02 H451.50 M449.10,73.51 H451.50" stroke="#bcbcbc" stroke-width="0.8" fill="none"/>
<circle cx="450.30" cy="71.77" r="1.90" fill="#fff" stroke="#bcbcbc" stroke-width="1"/>
<path d="M516.20,93.68 V97.17 M515.00,93.68 H517.40 M515.00,97.17 H517.40" stroke="#bcbcbc" stroke-width="0.8" fill="none"/>
<circle cx="516.20" cy="95.43" r="1.90" fill="#fff" stroke="#bcbcbc" stroke-width="1"/>
<path d="M450.30,61.90 V65.40 M449.10,61.90 H451.50 M449.10,65.40 H451.50" stroke="#858585" stroke-width="0.8" fill="none"/>
<path d="M450.30,61.25 L452.70,65.35 L447.90,65.35Z" fill="#d0d0d0" stroke="#858585" stroke-width="1.2"/>
<path d="M516.20,89.84 V93.33 M515.00,89.84 H517.40 M515.00,93.33 H517.40" stroke="#858585" stroke-width="0.8" fill="none"/>
<path d="M516.20,89.19 L518.60,93.29 L513.80,93.29Z" fill="#d0d0d0" stroke="#858585" stroke-width="1.2"/>
<path d="M400.88,33.62 V45.84 M399.68,33.62 H402.07 M399.68,45.84 H402.07" stroke="#dc2a2e" stroke-width="0.8" fill="none"/>
<circle cx="400.88" cy="39.73" r="2.35" fill="#dc2a2e"/>
<path d="M417.35,42.79 V53.26 M416.15,42.79 H418.55 M416.15,53.26 H418.55" stroke="#dc2a2e" stroke-width="0.8" fill="none"/>
<circle cx="417.35" cy="48.02" r="2.35" fill="#dc2a2e"/>
<path d="M450.30,60.77 V67.75 M449.10,60.77 H451.50 M449.10,67.75 H451.50" stroke="#dc2a2e" stroke-width="0.8" fill="none"/>
<circle cx="450.30" cy="64.26" r="2.35" fill="#dc2a2e"/>
<path d="M516.20,86.35 V91.59 M515.00,86.35 H517.40 M515.00,91.59 H517.40" stroke="#dc2a2e" stroke-width="0.8" fill="none"/>
<circle cx="516.20" cy="88.97" r="2.35" fill="#dc2a2e"/>
<path d="M400.88,29.34 V34.58 M399.68,29.34 H402.07 M399.68,34.58 H402.07" stroke="#1f26c4" stroke-width="0.8" fill="none"/>
<rect x="398.88" y="29.96" width="4.00" height="4.00" fill="#fff" stroke="#1f26c4" stroke-width="1.5"/>
<path d="M417.35,37.11 V44.09 M416.15,37.11 H418.55 M416.15,44.09 H418.55" stroke="#1f26c4" stroke-width="0.8" fill="none"/>
<rect x="415.35" y="38.60" width="4.00" height="4.00" fill="#fff" stroke="#1f26c4" stroke-width="1.5"/>
<path d="M450.30,54.40 V61.38 M449.10,54.40 H451.50 M449.10,61.38 H451.50" stroke="#1f26c4" stroke-width="0.8" fill="none"/>
<rect x="448.30" y="55.89" width="4.00" height="4.00" fill="#fff" stroke="#1f26c4" stroke-width="1.5"/>
<path d="M516.20,81.98 V87.22 M515.00,81.98 H517.40 M515.00,87.22 H517.40" stroke="#1f26c4" stroke-width="0.8" fill="none"/>
<rect x="514.20" y="82.60" width="4.00" height="4.00" fill="#fff" stroke="#1f26c4" stroke-width="1.5"/>
<path d="M400.88,20.00 V21.75 M399.68,20.00 H402.07 M399.68,21.75 H402.07" stroke="#151515" stroke-width="0.8" fill="none"/>
<path d="M398.92,19.43 L402.83,19.43 L400.88,22.91Z" fill="#151515"/>
<path d="M417.35,31.35 V34.84 M416.15,31.35 H418.55 M416.15,34.84 H418.55" stroke="#151515" stroke-width="0.8" fill="none"/>
<path d="M415.39,31.65 L419.30,31.65 L417.35,35.13Z" fill="#151515"/>
<path d="M450.30,50.99 V56.23 M449.10,50.99 H451.50 M449.10,56.23 H451.50" stroke="#151515" stroke-width="0.8" fill="none"/>
<path d="M448.34,52.17 L452.25,52.17 L450.30,55.65Z" fill="#151515"/>
<path d="M516.20,81.11 V86.35 M515.00,81.11 H517.40 M515.00,86.35 H517.40" stroke="#151515" stroke-width="0.8" fill="none"/>
<path d="M514.25,82.28 L518.16,82.28 L516.20,85.77Z" fill="#151515"/>
<rect x="381.90" y="17.50" width="5" height="5" fill="#7a2070"/>
<path d="M384.40,20.00 V107.30 H516.80" fill="none" stroke="#2a2a2a" stroke-width="1.25"/>
<path d="M382.20,107.30 H384.40" stroke="#222" stroke-width="1.1"/>
<text x="381.40" y="109.90" font-size="7.2" font-weight="bold" text-anchor="end">0</text>
<path d="M382.20,63.65 H384.40" stroke="#222" stroke-width="1.1"/>
<text x="381.40" y="66.25" font-size="7.2" font-weight="bold" text-anchor="end">50</text>
<path d="M382.20,20.00 H384.40" stroke="#222" stroke-width="1.1"/>
<text x="381.40" y="22.60" font-size="7.2" font-weight="bold" text-anchor="end">100</text>
<path d="M382.50,98.57 H384.40" stroke="#222" stroke-width="1"/>
<path d="M382.50,89.84 H384.40" stroke="#222" stroke-width="1"/>
<path d="M382.50,81.11 H384.40" stroke="#222" stroke-width="1"/>
<path d="M382.50,72.38 H384.40" stroke="#222" stroke-width="1"/>
<path d="M382.50,54.92 H384.40" stroke="#222" stroke-width="1"/>
<path d="M382.50,46.19 H384.40" stroke="#222" stroke-width="1"/>
<path d="M382.50,37.46 H384.40" stroke="#222" stroke-width="1"/>
<path d="M382.50,28.73 H384.40" stroke="#222" stroke-width="1"/>
<path d="M384.40,107.30 V109.70" stroke="#222" stroke-width="1.1"/>
<text x="384.40" y="118.20" font-size="7.2" font-weight="bold" text-anchor="middle">0</text>
<path d="M417.35,107.30 V109.70" stroke="#222" stroke-width="1.1"/>
<text x="417.35" y="118.20" font-size="7.2" font-weight="bold" text-anchor="middle">5</text>
<path d="M450.30,107.30 V109.70" stroke="#222" stroke-width="1.1"/>
<text x="450.30" y="118.20" font-size="7.2" font-weight="bold" text-anchor="middle">10</text>
<path d="M483.25,107.30 V109.70" stroke="#222" stroke-width="1.1"/>
<text x="483.25" y="118.20" font-size="7.2" font-weight="bold" text-anchor="middle">15</text>
<path d="M516.20,107.30 V109.70" stroke="#222" stroke-width="1.1"/>
<text x="516.20" y="118.20" font-size="7.2" font-weight="bold" text-anchor="middle">20</text>
<path d="M390.99,107.30 V109.30" stroke="#222" stroke-width="1"/>
<path d="M397.58,107.30 V109.30" stroke="#222" stroke-width="1"/>
<path d="M404.17,107.30 V109.30" stroke="#222" stroke-width="1"/>
<path d="M410.76,107.30 V109.30" stroke="#222" stroke-width="1"/>
<path d="M417.35,107.30 V109.30" stroke="#222" stroke-width="1"/>
<path d="M423.94,107.30 V109.30" stroke="#222" stroke-width="1"/>
<path d="M430.53,107.30 V109.30" stroke="#222" stroke-width="1"/>
<path d="M437.12,107.30 V109.30" stroke="#222" stroke-width="1"/>
<path d="M443.71,107.30 V109.30" stroke="#222" stroke-width="1"/>
<path d="M450.30,107.30 V109.30" stroke="#222" stroke-width="1"/>
<path d="M456.89,107.30 V109.30" stroke="#222" stroke-width="1"/>
<path d="M463.48,107.30 V109.30" stroke="#222" stroke-width="1"/>
<path d="M470.07,107.30 V109.30" stroke="#222" stroke-width="1"/>
<path d="M476.66,107.30 V109.30" stroke="#222" stroke-width="1"/>
<path d="M483.25,107.30 V109.30" stroke="#222" stroke-width="1"/>
<path d="M489.84,107.30 V109.30" stroke="#222" stroke-width="1"/>
<path d="M496.43,107.30 V109.30" stroke="#222" stroke-width="1"/>
<path d="M503.02,107.30 V109.30" stroke="#222" stroke-width="1"/>
<path d="M509.61,107.30 V109.30" stroke="#222" stroke-width="1"/>
<text x="450.3" y="128.00" font-size="7.4" font-weight="bold" text-anchor="middle">Concentration (nmol/L)</text>
<text transform="translate(367.00,62.30) rotate(-90)" x="0" y="0" font-size="7.6" font-weight="bold" text-anchor="middle">Survival (%)</text>
<text x="90.5" y="157.3" font-size="9.25" font-weight="bold" text-anchor="middle">Etoposide</text>
<path d="M24.60,170.00 L26.51,170.22 L28.42,170.77 L30.33,171.60 L32.24,172.68 L34.15,173.97 L36.06,175.44 L37.97,177.07 L39.88,178.83 L41.79,180.70 L43.70,182.65 L45.61,184.67 L47.52,186.73 L49.43,188.82 L51.34,190.91 L53.25,193.01 L55.16,195.09 L57.07,197.14 L58.98,199.16 L60.89,201.15 L62.80,203.09 L64.71,204.98 L66.62,206.82 L68.53,208.60 L70.44,210.33 L72.35,212.00 L74.26,213.61 L76.17,215.17 L78.08,216.67 L79.99,218.12 L81.90,219.51 L83.81,220.84 L85.72,222.13 L87.63,223.36 L89.54,224.55 L91.46,225.69 L93.37,226.78 L95.28,227.83 L97.19,228.84 L99.10,229.80 L101.01,230.73 L102.92,231.62 L104.83,232.48 L106.74,233.30 L108.65,234.09 L110.56,234.85 L112.47,235.58 L114.38,236.28 L116.29,236.95 L118.20,237.60 L120.11,238.22 L122.02,238.82 L123.93,239.40 L125.84,239.95 L127.75,240.49 L129.66,241.00 L131.57,241.50 L133.48,241.98 L135.39,242.44 L137.30,242.88 L139.21,243.31 L141.12,243.72 L143.03,244.12 L144.94,244.51 L146.85,244.88 L148.76,245.24 L150.67,245.59 L152.58,245.93 L154.49,246.25 L156.40,246.57" fill="none" stroke="#858585" stroke-width="1.0"/>
<path d="M24.60,170.00 L26.51,171.32 L28.42,173.36 L30.33,175.72 L32.24,178.27 L34.15,180.90 L36.06,183.57 L37.97,186.22 L39.88,188.83 L41.79,191.38 L43.70,193.86 L45.61,196.25 L47.52,198.55 L49.43,200.77 L51.34,202.89 L53.25,204.92 L55.16,206.86 L57.07,208.71 L58.98,210.48 L60.89,212.17 L62.80,213.77 L64.71,215.31 L66.62,216.77 L68.53,218.17 L70.44,219.50 L72.35,220.77 L74.26,221.98 L76.17,223.14 L78.08,224.25 L79.99,225.31 L81.90,226.32 L83.81,227.28 L85.72,228.21 L87.63,229.10 L89.54,229.95 L91.46,230.76 L93.37,231.54 L95.28,232.29 L97.19,233.01 L99.10,233.70 L101.01,234.36 L102.92,235.00 L104.83,235.61 L106.74,236.21 L108.65,236.77 L110.56,237.32 L112.47,237.85 L114.38,238.36 L116.29,238.85 L118.20,239.32 L120.11,239.78 L122.02,240.22 L123.93,240.65 L125.84,241.06 L127.75,241.46 L129.66,241.84 L131.57,242.22 L133.48,242.58 L135.39,242.93 L137.30,243.27 L139.21,243.60 L141.12,243.91 L143.03,244.22 L144.94,244.52 L146.85,244.81 L148.76,245.10 L150.67,245.37 L152.58,245.64 L154.49,245.90 L156.40,246.15" fill="none" stroke="#151515" stroke-width="1.0" stroke-dasharray="2.5,1.7"/>
<path d="M24.60,170.00 L26.51,171.05 L28.42,172.71 L30.33,174.67 L32.24,176.81 L34.15,179.07 L36.06,181.37 L37.97,183.71 L39.88,186.04 L41.79,188.35 L43.70,190.62 L45.61,192.84 L47.52,195.00 L49.43,197.11 L51.34,199.15 L53.25,201.12 L55.16,203.02 L57.07,204.86 L58.98,206.63 L60.89,208.33 L62.80,209.96 L64.71,211.54 L66.62,213.05 L68.53,214.50 L70.44,215.90 L72.35,217.24 L74.26,218.52 L76.17,219.76 L78.08,220.95 L79.99,222.09 L81.90,223.19 L83.81,224.24 L85.72,225.25 L87.63,226.23 L89.54,227.17 L91.46,228.07 L93.37,228.94 L95.28,229.78 L97.19,230.59 L99.10,231.36 L101.01,232.11 L102.92,232.84 L104.83,233.53 L106.74,234.21 L108.65,234.86 L110.56,235.49 L112.47,236.09 L114.38,236.68 L116.29,237.25 L118.20,237.79 L120.11,238.33 L122.02,238.84 L123.93,239.34 L125.84,239.82 L127.75,240.28 L129.66,240.74 L131.57,241.18 L133.48,241.60 L135.39,242.01 L137.30,242.41 L139.21,242.80 L141.12,243.18 L143.03,243.55 L144.94,243.90 L146.85,244.25 L148.76,244.58 L150.67,244.91 L152.58,245.23 L154.49,245.54 L156.40,245.84" fill="none" stroke="#2a2aa6" stroke-width="1.3" stroke-dasharray="3.5,1.8,1,1.8"/>
<path d="M24.60,170.00 L26.51,170.93 L28.42,172.46 L30.33,174.29 L32.24,176.31 L34.15,178.46 L36.06,180.69 L37.97,182.95 L39.88,185.23 L41.79,187.49 L43.70,189.73 L45.61,191.93 L47.52,194.08 L49.43,196.18 L51.34,198.22 L53.25,200.19 L55.16,202.11 L57.07,203.96 L58.98,205.74 L60.89,207.46 L62.80,209.12 L64.71,210.71 L66.62,212.25 L68.53,213.72 L70.44,215.14 L72.35,216.51 L74.26,217.82 L76.17,219.08 L78.08,220.29 L79.99,221.46 L81.90,222.58 L83.81,223.66 L85.72,224.70 L87.63,225.69 L89.54,226.65 L91.46,227.58 L93.37,228.47 L95.28,229.33 L97.19,230.15 L99.10,230.95 L101.01,231.72 L102.92,232.46 L104.83,233.17 L106.74,233.86 L108.65,234.53 L110.56,235.17 L112.47,235.79 L114.38,236.39 L116.29,236.97 L118.20,237.53 L120.11,238.07 L122.02,238.60 L123.93,239.11 L125.84,239.60 L127.75,240.08 L129.66,240.54 L131.57,240.99 L133.48,241.42 L135.39,241.84 L137.30,242.25 L139.21,242.65 L141.12,243.03 L143.03,243.41 L144.94,243.77 L146.85,244.12 L148.76,244.47 L150.67,244.80 L152.58,245.13 L154.49,245.44 L156.40,245.75" fill="none" stroke="#dc2a2e" stroke-width="1.15"/>
<path d="M50.96,185.71 V199.68 M49.76,185.71 H52.16 M49.76,199.68 H52.16" stroke="#858585" stroke-width="0.8" fill="none"/>
<path d="M50.96,190.30 L53.36,194.40 L48.56,194.40Z" fill="#d0d0d0" stroke="#858585" stroke-width="1.2"/>
<path d="M77.32,213.65 V220.63 M76.12,213.65 H78.52 M76.12,220.63 H78.52" stroke="#858585" stroke-width="0.8" fill="none"/>
<path d="M77.32,214.74 L79.72,218.84 L74.92,218.84Z" fill="#d0d0d0" stroke="#858585" stroke-width="1.2"/>
<path d="M103.68,231.98 V237.22 M102.48,231.98 H104.88 M102.48,237.22 H104.88" stroke="#858585" stroke-width="0.8" fill="none"/>
<path d="M103.68,232.20 L106.08,236.30 L101.28,236.30Z" fill="#d0d0d0" stroke="#858585" stroke-width="1.2"/>
<path d="M130.04,239.84 V245.08 M128.84,239.84 H131.24 M128.84,245.08 H131.24" stroke="#858585" stroke-width="0.8" fill="none"/>
<path d="M130.04,240.06 L132.44,244.16 L127.64,244.16Z" fill="#d0d0d0" stroke="#858585" stroke-width="1.2"/>
<path d="M156.40,245.08 V250.32 M155.20,245.08 H157.60 M155.20,250.32 H157.60" stroke="#858585" stroke-width="0.8" fill="none"/>
<path d="M156.40,245.30 L158.80,249.40 L154.00,249.40Z" fill="#d0d0d0" stroke="#858585" stroke-width="1.2"/>
<path d="M50.96,202.30 V211.03 M49.76,202.30 H52.16 M49.76,211.03 H52.16" stroke="#151515" stroke-width="0.8" fill="none"/>
<path d="M49.01,205.22 L52.91,205.22 L50.96,208.71Z" fill="#151515"/>
<path d="M77.32,218.89 V224.13 M76.12,218.89 H78.52 M76.12,224.13 H78.52" stroke="#151515" stroke-width="0.8" fill="none"/>
<path d="M75.36,220.06 L79.27,220.06 L77.32,223.55Z" fill="#151515"/>
<path d="M103.68,234.60 V239.84 M102.48,234.60 H104.88 M102.48,239.84 H104.88" stroke="#151515" stroke-width="0.8" fill="none"/>
<path d="M101.73,235.78 L105.64,235.78 L103.68,239.26Z" fill="#151515"/>
<path d="M130.04,240.71 V245.95 M128.84,240.71 H131.24 M128.84,245.95 H131.24" stroke="#151515" stroke-width="0.8" fill="none"/>
<path d="M128.08,241.89 L132.00,241.89 L130.04,245.37Z" fill="#151515"/>
<path d="M156.40,244.21 V249.44 M155.20,244.21 H157.60 M155.20,249.44 H157.60" stroke="#151515" stroke-width="0.8" fill="none"/>
<path d="M154.44,245.38 L158.36,245.38 L156.40,248.86Z" fill="#151515"/>
<path d="M50.96,197.94 V206.67 M49.76,197.94 H52.16 M49.76,206.67 H52.16" stroke="#1f26c4" stroke-width="0.8" fill="none"/>
<rect x="48.96" y="200.30" width="4.00" height="4.00" fill="#fff" stroke="#1f26c4" stroke-width="1.5"/>
<path d="M77.32,215.40 V222.38 M76.12,215.40 H78.52 M76.12,222.38 H78.52" stroke="#1f26c4" stroke-width="0.8" fill="none"/>
<rect x="75.32" y="216.89" width="4.00" height="4.00" fill="#fff" stroke="#1f26c4" stroke-width="1.5"/>
<path d="M103.68,233.73 V238.97 M102.48,233.73 H104.88 M102.48,238.97 H104.88" stroke="#1f26c4" stroke-width="0.8" fill="none"/>
<rect x="101.68" y="234.35" width="4.00" height="4.00" fill="#fff" stroke="#1f26c4" stroke-width="1.5"/>
<path d="M130.04,241.59 V246.82 M128.84,241.59 H131.24 M128.84,246.82 H131.24" stroke="#1f26c4" stroke-width="0.8" fill="none"/>
<rect x="128.04" y="242.21" width="4.00" height="4.00" fill="#fff" stroke="#1f26c4" stroke-width="1.5"/>
<path d="M156.40,245.95 V251.19 M155.20,245.95 H157.60 M155.20,251.19 H157.60" stroke="#1f26c4" stroke-width="0.8" fill="none"/>
<rect x="154.40" y="246.57" width="4.00" height="4.00" fill="#fff" stroke="#1f26c4" stroke-width="1.5"/>
<path d="M50.96,190.95 V201.43 M49.76,190.95 H52.16 M49.76,201.43 H52.16" stroke="#dc2a2e" stroke-width="0.8" fill="none"/>
<circle cx="50.96" cy="196.19" r="2.35" fill="#dc2a2e"/>
<path d="M77.32,214.52 V221.51 M76.12,214.52 H78.52 M76.12,221.51 H78.52" stroke="#dc2a2e" stroke-width="0.8" fill="none"/>
<circle cx="77.32" cy="218.02" r="2.35" fill="#dc2a2e"/>
<path d="M103.68,231.98 V238.97 M102.48,231.98 H104.88 M102.48,238.97 H104.88" stroke="#dc2a2e" stroke-width="0.8" fill="none"/>
<circle cx="103.68" cy="235.48" r="2.35" fill="#dc2a2e"/>
<path d="M130.04,239.84 V245.08 M128.84,239.84 H131.24 M128.84,245.08 H131.24" stroke="#dc2a2e" stroke-width="0.8" fill="none"/>
<circle cx="130.04" cy="242.46" r="2.35" fill="#dc2a2e"/>
<path d="M156.40,244.21 V249.44 M155.20,244.21 H157.60 M155.20,249.44 H157.60" stroke="#dc2a2e" stroke-width="0.8" fill="none"/>
<circle cx="156.40" cy="246.82" r="2.35" fill="#dc2a2e"/>
<rect x="22.10" y="167.50" width="5" height="5" fill="#7a2070"/>
<path d="M24.60,170.00 V257.30 H157.00" fill="none" stroke="#2a2a2a" stroke-width="1.25"/>
<path d="M22.40,257.30 H24.60" stroke="#222" stroke-width="1.1"/>
<text x="21.60" y="259.90" font-size="7.2" font-weight="bold" text-anchor="end">0</text>
<path d="M22.40,213.65 H24.60" stroke="#222" stroke-width="1.1"/>
<text x="21.60" y="216.25" font-size="7.2" font-weight="bold" text-anchor="end">50</text>
<path d="M22.40,170.00 H24.60" stroke="#222" stroke-width="1.1"/>
<text x="21.60" y="172.60" font-size="7.2" font-weight="bold" text-anchor="end">100</text>
<path d="M22.70,248.57 H24.60" stroke="#222" stroke-width="1"/>
<path d="M22.70,239.84 H24.60" stroke="#222" stroke-width="1"/>
<path d="M22.70,231.11 H24.60" stroke="#222" stroke-width="1"/>
<path d="M22.70,222.38 H24.60" stroke="#222" stroke-width="1"/>
<path d="M22.70,204.92 H24.60" stroke="#222" stroke-width="1"/>
<path d="M22.70,196.19 H24.60" stroke="#222" stroke-width="1"/>
<path d="M22.70,187.46 H24.60" stroke="#222" stroke-width="1"/>
<path d="M22.70,178.73 H24.60" stroke="#222" stroke-width="1"/>
<path d="M24.60,257.30 V259.70" stroke="#222" stroke-width="1.1"/>
<text x="24.60" y="268.20" font-size="7.2" font-weight="bold" text-anchor="middle">0</text>
<path d="M50.96,257.30 V259.70" stroke="#222" stroke-width="1.1"/>
<text x="50.96" y="268.20" font-size="7.2" font-weight="bold" text-anchor="middle">20</text>
<path d="M77.32,257.30 V259.70" stroke="#222" stroke-width="1.1"/>
<text x="77.32" y="268.20" font-size="7.2" font-weight="bold" text-anchor="middle">40</text>
<path d="M103.68,257.30 V259.70" stroke="#222" stroke-width="1.1"/>
<text x="103.68" y="268.20" font-size="7.2" font-weight="bold" text-anchor="middle">60</text>
<path d="M130.04,257.30 V259.70" stroke="#222" stroke-width="1.1"/>
<text x="130.04" y="268.20" font-size="7.2" font-weight="bold" text-anchor="middle">80</text>
<path d="M156.40,257.30 V259.70" stroke="#222" stroke-width="1.1"/>
<text x="156.40" y="268.20" font-size="7.2" font-weight="bold" text-anchor="middle">100</text>
<path d="M29.87,257.30 V259.30" stroke="#222" stroke-width="1"/>
<path d="M35.14,257.30 V259.30" stroke="#222" stroke-width="1"/>
<path d="M40.42,257.30 V259.30" stroke="#222" stroke-width="1"/>
<path d="M45.69,257.30 V259.30" stroke="#222" stroke-width="1"/>
<path d="M50.96,257.30 V259.30" stroke="#222" stroke-width="1"/>
<path d="M56.23,257.30 V259.30" stroke="#222" stroke-width="1"/>
<path d="M61.50,257.30 V259.30" stroke="#222" stroke-width="1"/>
<path d="M66.78,257.30 V259.30" stroke="#222" stroke-width="1"/>
<path d="M72.05,257.30 V259.30" stroke="#222" stroke-width="1"/>
<path d="M77.32,257.30 V259.30" stroke="#222" stroke-width="1"/>
<path d="M82.59,257.30 V259.30" stroke="#222" stroke-width="1"/>
<path d="M87.86,257.30 V259.30" stroke="#222" stroke-width="1"/>
<path d="M93.14,257.30 V259.30" stroke="#222" stroke-width="1"/>
<path d="M98.41,257.30 V259.30" stroke="#222" stroke-width="1"/>
<path d="M103.68,257.30 V259.30" stroke="#222" stroke-width="1"/>
<path d="M108.95,257.30 V259.30" stroke="#222" stroke-width="1"/>
<path d="M114.22,257.30 V259.30" stroke="#222" stroke-width="1"/>
<path d="M119.50,257.30 V259.30" stroke="#222" stroke-width="1"/>
<path d="M124.77,257.30 V259.30" stroke="#222" stroke-width="1"/>
<path d="M130.04,257.30 V259.30" stroke="#222" stroke-width="1"/>
<path d="M135.31,257.30 V259.30" stroke="#222" stroke-width="1"/>
<path d="M140.58,257.30 V259.30" stroke="#222" stroke-width="1"/>
<path d="M145.86,257.30 V259.30" stroke="#222" stroke-width="1"/>
<path d="M151.13,257.30 V259.30" stroke="#222" stroke-width="1"/>
<text x="90.5" y="278.00" font-size="7.4" font-weight="bold" text-anchor="middle">Concentration (nmol/L)</text>
<text transform="translate(7.20,212.30) rotate(-90)" x="0" y="0" font-size="7.6" font-weight="bold" text-anchor="middle">Survival (%)</text>
<text x="267.9" y="157.3" font-size="9.25" font-weight="bold" text-anchor="middle">Methotrexate</text>
<path d="M202.60,181.30 L204.49,181.31 L206.39,181.36 L208.28,181.46 L210.18,181.63 L212.07,181.87 L213.97,182.19 L215.86,182.59 L217.75,183.07 L219.65,183.64 L221.54,184.30 L223.44,185.05 L225.33,185.88 L227.22,186.79 L229.12,187.79 L231.01,188.85 L232.91,189.98 L234.80,191.18 L236.70,192.43 L238.59,193.73 L240.48,195.07 L242.38,196.44 L244.27,197.84 L246.17,199.26 L248.06,200.70 L249.96,202.14 L251.85,203.58 L253.74,205.01 L255.64,206.44 L257.53,207.85 L259.43,209.25 L261.32,210.62 L263.21,211.97 L265.11,213.28 L267.00,214.57 L268.90,215.83 L270.79,217.06 L272.69,218.25 L274.58,219.41 L276.47,220.53 L278.37,221.62 L280.26,222.67 L282.16,223.68 L284.05,224.66 L285.94,225.61 L287.84,226.52 L289.73,227.40 L291.63,228.25 L293.52,229.07 L295.42,229.85 L297.31,230.61 L299.20,231.33 L301.10,232.03 L302.99,232.70 L304.89,233.35 L306.78,233.97 L308.68,234.57 L310.57,235.14 L312.46,235.69 L314.36,236.22 L316.25,236.73 L318.15,237.22 L320.04,237.69 L321.93,238.15 L323.83,238.58 L325.72,239.00 L327.62,239.41 L329.51,239.79 L331.41,240.17 L333.30,240.53" fill="none" stroke="#858585" stroke-width="1.0"/>
<path d="M202.60,181.30 L204.49,181.32 L206.39,181.39 L208.28,181.55 L210.18,181.79 L212.07,182.12 L213.97,182.56 L215.86,183.10 L217.75,183.75 L219.65,184.50 L221.54,185.36 L223.44,186.31 L225.33,187.37 L227.22,188.51 L229.12,189.73 L231.01,191.03 L232.91,192.39 L234.80,193.81 L236.70,195.27 L238.59,196.77 L240.48,198.31 L242.38,199.86 L244.27,201.42 L246.17,202.99 L248.06,204.55 L249.96,206.10 L251.85,207.64 L253.74,209.16 L255.64,210.65 L257.53,212.11 L259.43,213.55 L261.32,214.94 L263.21,216.30 L265.11,217.62 L267.00,218.90 L268.90,220.14 L270.79,221.34 L272.69,222.50 L274.58,223.62 L276.47,224.70 L278.37,225.73 L280.26,226.73 L282.16,227.69 L284.05,228.62 L285.94,229.50 L287.84,230.35 L289.73,231.17 L291.63,231.96 L293.52,232.71 L295.42,233.43 L297.31,234.12 L299.20,234.79 L301.10,235.42 L302.99,236.04 L304.89,236.62 L306.78,237.18 L308.68,237.72 L310.57,238.24 L312.46,238.74 L314.36,239.21 L316.25,239.67 L318.15,240.11 L320.04,240.53 L321.93,240.93 L323.83,241.32 L325.72,241.70 L327.62,242.05 L329.51,242.40 L331.41,242.73 L333.30,243.05" fill="none" stroke="#151515" stroke-width="1.0" stroke-dasharray="2.5,1.7"/>
<path d="M202.60,181.30 L204.49,181.32 L206.39,181.41 L208.28,181.59 L210.18,181.86 L212.07,182.24 L213.97,182.72 L215.86,183.31 L217.75,184.01 L219.65,184.82 L221.54,185.73 L223.44,186.74 L225.33,187.84 L227.22,189.03 L229.12,190.30 L231.01,191.64 L232.91,193.03 L234.80,194.48 L236.70,195.97 L238.59,197.49 L240.48,199.04 L242.38,200.60 L244.27,202.17 L246.17,203.74 L248.06,205.30 L249.96,206.85 L251.85,208.37 L253.74,209.88 L255.64,211.36 L257.53,212.81 L259.43,214.23 L261.32,215.61 L263.21,216.95 L265.11,218.25 L267.00,219.52 L268.90,220.74 L270.79,221.93 L272.69,223.07 L274.58,224.17 L276.47,225.24 L278.37,226.26 L280.26,227.25 L282.16,228.20 L284.05,229.11 L285.94,229.99 L287.84,230.83 L289.73,231.64 L291.63,232.42 L293.52,233.16 L295.42,233.88 L297.31,234.57 L299.20,235.23 L301.10,235.86 L302.99,236.47 L304.89,237.06 L306.78,237.62 L308.68,238.16 L310.57,238.67 L312.46,239.17 L314.36,239.65 L316.25,240.11 L318.15,240.55 L320.04,240.97 L321.93,241.38 L323.83,241.77 L325.72,242.14 L327.62,242.51 L329.51,242.85 L331.41,243.19 L333.30,243.51" fill="none" stroke="#2a2aa6" stroke-width="1.3" stroke-dasharray="3.5,1.8,1,1.8"/>
<path d="M202.60,181.30 L204.49,181.31 L206.39,181.36 L208.28,181.48 L210.18,181.69 L212.07,182.01 L213.97,182.45 L215.86,183.04 L217.75,183.78 L219.65,184.68 L221.54,185.74 L223.44,186.95 L225.33,188.32 L227.22,189.84 L229.12,191.49 L231.01,193.25 L232.91,195.12 L234.80,197.07 L236.70,199.08 L238.59,201.14 L240.48,203.23 L242.38,205.33 L244.27,207.42 L246.17,209.49 L248.06,211.53 L249.96,213.52 L251.85,215.46 L253.74,217.34 L255.64,219.15 L257.53,220.89 L259.43,222.57 L261.32,224.16 L263.21,225.69 L265.11,227.14 L267.00,228.52 L268.90,229.82 L270.79,231.06 L272.69,232.23 L274.58,233.34 L276.47,234.39 L278.37,235.38 L280.26,236.31 L282.16,237.19 L284.05,238.02 L285.94,238.80 L287.84,239.54 L289.73,240.24 L291.63,240.90 L293.52,241.52 L295.42,242.11 L297.31,242.66 L299.20,243.18 L301.10,243.68 L302.99,244.14 L304.89,244.58 L306.78,245.00 L308.68,245.40 L310.57,245.77 L312.46,246.13 L314.36,246.46 L316.25,246.78 L318.15,247.08 L320.04,247.37 L321.93,247.64 L323.83,247.90 L325.72,248.15 L327.62,248.38 L329.51,248.61 L331.41,248.82 L333.30,249.02" fill="none" stroke="#dc2a2e" stroke-width="1.15"/>
<path d="M224.38,182.06 V186.62 M223.18,182.06 H225.58 M223.18,186.62 H225.58" stroke="#858585" stroke-width="0.8" fill="none"/>
<path d="M224.38,181.94 L226.78,186.04 L221.98,186.04Z" fill="#d0d0d0" stroke="#858585" stroke-width="1.2"/>
<path d="M246.17,193.46 V205.62 M244.97,193.46 H247.37 M244.97,205.62 H247.37" stroke="#858585" stroke-width="0.8" fill="none"/>
<path d="M246.17,197.14 L248.57,201.24 L243.77,201.24Z" fill="#d0d0d0" stroke="#858585" stroke-width="1.2"/>
<path d="M289.73,225.38 V231.46 M288.53,225.38 H290.93 M288.53,231.46 H290.93" stroke="#858585" stroke-width="0.8" fill="none"/>
<path d="M289.73,226.02 L292.13,230.12 L287.33,230.12Z" fill="#d0d0d0" stroke="#858585" stroke-width="1.2"/>
<path d="M333.30,233.13 V242.25 M332.10,233.13 H334.50 M332.10,242.25 H334.50" stroke="#858585" stroke-width="0.8" fill="none"/>
<path d="M333.30,235.29 L335.70,239.39 L330.90,239.39Z" fill="#d0d0d0" stroke="#858585" stroke-width="1.2"/>
<path d="M213.49,166.48 V177.12 M212.29,166.48 H214.69 M212.29,177.12 H214.69" stroke="#151515" stroke-width="0.8" fill="none"/>
<path d="M211.54,170.36 L215.45,170.36 L213.49,173.84Z" fill="#151515"/>
<path d="M224.38,175.98 V182.06 M223.18,175.98 H225.58 M223.18,182.06 H225.58" stroke="#151515" stroke-width="0.8" fill="none"/>
<path d="M222.43,177.58 L226.34,177.58 L224.38,181.06Z" fill="#151515"/>
<path d="M246.17,201.06 V207.14 M244.97,201.06 H247.37 M244.97,207.14 H247.37" stroke="#151515" stroke-width="0.8" fill="none"/>
<path d="M244.21,202.66 L248.12,202.66 L246.17,206.14Z" fill="#151515"/>
<path d="M289.73,231.46 V236.02 M288.53,231.46 H290.93 M288.53,236.02 H290.93" stroke="#151515" stroke-width="0.8" fill="none"/>
<path d="M287.78,232.30 L291.69,232.30 L289.73,235.78Z" fill="#151515"/>
<path d="M333.30,243.62 V246.66 M332.10,243.62 H334.50 M332.10,246.66 H334.50" stroke="#151515" stroke-width="0.8" fill="none"/>
<path d="M331.34,243.70 L335.25,243.70 L333.30,247.18Z" fill="#151515"/>
<path d="M213.49,184.04 V193.16 M212.29,184.04 H214.69 M212.29,193.16 H214.69" stroke="#1f26c4" stroke-width="0.8" fill="none"/>
<rect x="211.49" y="186.60" width="4.00" height="4.00" fill="#fff" stroke="#1f26c4" stroke-width="1.5"/>
<path d="M224.38,174.92 V190.12 M223.18,174.92 H225.58 M223.18,190.12 H225.58" stroke="#1f26c4" stroke-width="0.8" fill="none"/>
<rect x="222.38" y="180.52" width="4.00" height="4.00" fill="#fff" stroke="#1f26c4" stroke-width="1.5"/>
<path d="M246.17,201.06 V210.18 M244.97,201.06 H247.37 M244.97,210.18 H247.37" stroke="#1f26c4" stroke-width="0.8" fill="none"/>
<rect x="244.17" y="203.62" width="4.00" height="4.00" fill="#fff" stroke="#1f26c4" stroke-width="1.5"/>
<path d="M289.73,227.36 V238.00 M288.53,227.36 H290.93 M288.53,238.00 H290.93" stroke="#1f26c4" stroke-width="0.8" fill="none"/>
<rect x="287.73" y="230.68" width="4.00" height="4.00" fill="#fff" stroke="#1f26c4" stroke-width="1.5"/>
<path d="M333.30,242.94 V247.50 M332.10,242.94 H334.50 M332.10,247.50 H334.50" stroke="#1f26c4" stroke-width="0.8" fill="none"/>
<rect x="331.30" y="243.22" width="4.00" height="4.00" fill="#fff" stroke="#1f26c4" stroke-width="1.5"/>
<path d="M213.49,180.16 V183.20 M212.29,180.16 H214.69 M212.29,183.20 H214.69" stroke="#dc2a2e" stroke-width="0.8" fill="none"/>
<circle cx="213.49" cy="181.68" r="2.35" fill="#dc2a2e"/>
<path d="M224.38,181.30 V185.86 M223.18,181.30 H225.58 M223.18,185.86 H225.58" stroke="#dc2a2e" stroke-width="0.8" fill="none"/>
<circle cx="224.38" cy="183.58" r="2.35" fill="#dc2a2e"/>
<path d="M246.17,210.10 V214.66 M244.97,210.10 H247.37 M244.97,214.66 H247.37" stroke="#dc2a2e" stroke-width="0.8" fill="none"/>
<circle cx="246.17" cy="212.38" r="2.35" fill="#dc2a2e"/>
<path d="M289.73,237.39 V241.95 M288.53,237.39 H290.93 M288.53,241.95 H290.93" stroke="#dc2a2e" stroke-width="0.8" fill="none"/>
<circle cx="289.73" cy="239.67" r="2.35" fill="#dc2a2e"/>
<path d="M333.30,248.10 V251.14 M332.10,248.10 H334.50 M332.10,251.14 H334.50" stroke="#dc2a2e" stroke-width="0.8" fill="none"/>
<circle cx="333.30" cy="249.62" r="2.35" fill="#dc2a2e"/>
<rect x="200.10" y="178.80" width="5" height="5" fill="#7a2070"/>
<path d="M202.60,170.00 V257.30 H333.90" fill="none" stroke="#2a2a2a" stroke-width="1.25"/>
<path d="M200.40,257.30 H202.60" stroke="#222" stroke-width="1.1"/>
<text x="199.60" y="259.90" font-size="7.2" font-weight="bold" text-anchor="end">0</text>
<path d="M200.40,219.30 H202.60" stroke="#222" stroke-width="1.1"/>
<text x="199.60" y="221.90" font-size="7.2" font-weight="bold" text-anchor="end">50</text>
<path d="M200.40,181.30 H202.60" stroke="#222" stroke-width="1.1"/>
<text x="199.60" y="183.90" font-size="7.2" font-weight="bold" text-anchor="end">100</text>
<path d="M200.70,249.70 H202.60" stroke="#222" stroke-width="1"/>
<path d="M200.70,242.10 H202.60" stroke="#222" stroke-width="1"/>
<path d="M200.70,234.50 H202.60" stroke="#222" stroke-width="1"/>
<path d="M200.70,226.90 H202.60" stroke="#222" stroke-width="1"/>
<path d="M200.70,211.70 H202.60" stroke="#222" stroke-width="1"/>
<path d="M200.70,204.10 H202.60" stroke="#222" stroke-width="1"/>
<path d="M200.70,196.50 H202.60" stroke="#222" stroke-width="1"/>
<path d="M200.70,188.90 H202.60" stroke="#222" stroke-width="1"/>
<path d="M200.70,173.70 H202.60" stroke="#222" stroke-width="1"/>
<path d="M202.60,257.30 V259.70" stroke="#222" stroke-width="1.1"/>
<text x="202.60" y="268.20" font-size="7.2" font-weight="bold" text-anchor="middle">0</text>
<path d="M246.17,257.30 V259.70" stroke="#222" stroke-width="1.1"/>
<text x="246.17" y="268.20" font-size="7.2" font-weight="bold" text-anchor="middle">50</text>
<path d="M289.73,257.30 V259.70" stroke="#222" stroke-width="1.1"/>
<text x="289.73" y="268.20" font-size="7.2" font-weight="bold" text-anchor="middle">100</text>
<path d="M333.30,257.30 V259.70" stroke="#222" stroke-width="1.1"/>
<text x="333.30" y="268.20" font-size="7.2" font-weight="bold" text-anchor="middle">150</text>
<path d="M211.31,257.30 V259.30" stroke="#222" stroke-width="1"/>
<path d="M220.03,257.30 V259.30" stroke="#222" stroke-width="1"/>
<path d="M228.74,257.30 V259.30" stroke="#222" stroke-width="1"/>
<path d="M237.45,257.30 V259.30" stroke="#222" stroke-width="1"/>
<path d="M246.17,257.30 V259.30" stroke="#222" stroke-width="1"/>
<path d="M254.88,257.30 V259.30" stroke="#222" stroke-width="1"/>
<path d="M263.59,257.30 V259.30" stroke="#222" stroke-width="1"/>
<path d="M272.31,257.30 V259.30" stroke="#222" stroke-width="1"/>
<path d="M281.02,257.30 V259.30" stroke="#222" stroke-width="1"/>
<path d="M289.73,257.30 V259.30" stroke="#222" stroke-width="1"/>
<path d="M298.45,257.30 V259.30" stroke="#222" stroke-width="1"/>
<path d="M307.16,257.30 V259.30" stroke="#222" stroke-width="1"/>
<path d="M315.87,257.30 V259.30" stroke="#222" stroke-width="1"/>
<path d="M324.59,257.30 V259.30" stroke="#222" stroke-width="1"/>
<text x="267.9" y="278.00" font-size="7.4" font-weight="bold" text-anchor="middle">Concentration (nmol/L)</text>
<text transform="translate(185.20,212.30) rotate(-90)" x="0" y="0" font-size="7.6" font-weight="bold" text-anchor="middle">Survival (%)</text>
<text x="450.1" y="157.3" font-size="9.25" font-weight="bold" text-anchor="middle">Paclitaxel</text>
<path d="M384.20,181.30 L386.11,181.30 L388.02,181.32 L389.93,181.37 L391.84,181.45 L393.75,181.59 L395.66,181.78 L397.57,182.04 L399.48,182.37 L401.39,182.78 L403.30,183.27 L405.21,183.86 L407.12,184.54 L409.03,185.32 L410.94,186.19 L412.85,187.16 L414.76,188.23 L416.67,189.38 L418.58,190.63 L420.49,191.96 L422.40,193.37 L424.31,194.84 L426.22,196.38 L428.13,197.97 L430.04,199.61 L431.95,201.29 L433.86,203.00 L435.77,204.72 L437.68,206.46 L439.59,208.20 L441.50,209.94 L443.41,211.67 L445.32,213.38 L447.23,215.07 L449.14,216.74 L451.06,218.37 L452.97,219.97 L454.88,221.53 L456.79,223.05 L458.70,224.52 L460.61,225.96 L462.52,227.34 L464.43,228.69 L466.34,229.98 L468.25,231.23 L470.16,232.43 L472.07,233.59 L473.98,234.70 L475.89,235.77 L477.80,236.80 L479.71,237.78 L481.62,238.73 L483.53,239.63 L485.44,240.50 L487.35,241.33 L489.26,242.12 L491.17,242.88 L493.08,243.61 L494.99,244.31 L496.90,244.98 L498.81,245.61 L500.72,246.23 L502.63,246.81 L504.54,247.37 L506.45,247.90 L508.36,248.42 L510.27,248.91 L512.18,249.38 L514.09,249.83 L516.00,250.26" fill="none" stroke="#bcbcbc" stroke-width="0.9"/>
<path d="M384.20,181.30 L386.11,181.30 L388.02,181.32 L389.93,181.36 L391.84,181.44 L393.75,181.56 L395.66,181.73 L397.57,181.97 L399.48,182.27 L401.39,182.65 L403.30,183.11 L405.21,183.66 L407.12,184.29 L409.03,185.02 L410.94,185.84 L412.85,186.75 L414.76,187.75 L416.67,188.84 L418.58,190.02 L420.49,191.27 L422.40,192.60 L424.31,194.00 L426.22,195.45 L428.13,196.95 L430.04,198.50 L431.95,200.08 L433.86,201.69 L435.77,203.31 L437.68,204.94 L439.59,206.58 L441.50,208.20 L443.41,209.82 L445.32,211.42 L447.23,212.99 L449.14,214.54 L451.06,216.06 L452.97,217.54 L454.88,218.98 L456.79,220.38 L458.70,221.74 L460.61,223.05 L462.52,224.32 L464.43,225.55 L466.34,226.73 L468.25,227.87 L470.16,228.96 L472.07,230.01 L473.98,231.02 L475.89,231.99 L477.80,232.91 L479.71,233.80 L481.62,234.65 L483.53,235.46 L485.44,236.24 L487.35,236.98 L489.26,237.69 L491.17,238.36 L493.08,239.01 L494.99,239.63 L496.90,240.22 L498.81,240.79 L500.72,241.33 L502.63,241.84 L504.54,242.34 L506.45,242.81 L508.36,243.26 L510.27,243.69 L512.18,244.10 L514.09,244.50 L516.00,244.87" fill="none" stroke="#858585" stroke-width="1.0"/>
<path d="M384.20,181.30 L386.11,181.33 L388.02,181.45 L389.93,181.71 L391.84,182.12 L393.75,182.71 L395.66,183.49 L397.57,184.45 L399.48,185.59 L401.39,186.92 L403.30,188.42 L405.21,190.07 L407.12,191.86 L409.03,193.77 L410.94,195.77 L412.85,197.84 L414.76,199.96 L416.67,202.12 L418.58,204.28 L420.49,206.44 L422.40,208.57 L424.31,210.66 L426.22,212.71 L428.13,214.70 L430.04,216.63 L431.95,218.49 L433.86,220.28 L435.77,221.99 L437.68,223.62 L439.59,225.18 L441.50,226.66 L443.41,228.07 L445.32,229.41 L447.23,230.67 L449.14,231.87 L451.06,233.01 L452.97,234.08 L454.88,235.10 L456.79,236.05 L458.70,236.96 L460.61,237.81 L462.52,238.62 L464.43,239.39 L466.34,240.11 L468.25,240.79 L470.16,241.44 L472.07,242.04 L473.98,242.62 L475.89,243.17 L477.80,243.68 L479.71,244.17 L481.62,244.64 L483.53,245.08 L485.44,245.49 L487.35,245.89 L489.26,246.27 L491.17,246.62 L493.08,246.96 L494.99,247.28 L496.90,247.59 L498.81,247.88 L500.72,248.16 L502.63,248.43 L504.54,248.68 L506.45,248.92 L508.36,249.15 L510.27,249.37 L512.18,249.58 L514.09,249.78 L516.00,249.97" fill="none" stroke="#151515" stroke-width="1.0" stroke-dasharray="2.5,1.7"/>
<path d="M384.20,181.30 L386.11,181.31 L388.02,181.35 L389.93,181.45 L391.84,181.62 L393.75,181.86 L395.66,182.19 L397.57,182.61 L399.48,183.13 L401.39,183.75 L403.30,184.48 L405.21,185.30 L407.12,186.23 L409.03,187.26 L410.94,188.38 L412.85,189.60 L414.76,190.89 L416.67,192.26 L418.58,193.70 L420.49,195.20 L422.40,196.74 L424.31,198.33 L426.22,199.95 L428.13,201.59 L430.04,203.24 L431.95,204.90 L433.86,206.55 L435.77,208.20 L437.68,209.83 L439.59,211.44 L441.50,213.02 L443.41,214.58 L445.32,216.10 L447.23,217.58 L449.14,219.02 L451.06,220.43 L452.97,221.79 L454.88,223.10 L456.79,224.38 L458.70,225.61 L460.61,226.79 L462.52,227.93 L464.43,229.03 L466.34,230.09 L468.25,231.10 L470.16,232.07 L472.07,233.01 L473.98,233.90 L475.89,234.76 L477.80,235.59 L479.71,236.38 L481.62,237.13 L483.53,237.86 L485.44,238.55 L487.35,239.21 L489.26,239.85 L491.17,240.46 L493.08,241.04 L494.99,241.60 L496.90,242.13 L498.81,242.65 L500.72,243.14 L502.63,243.61 L504.54,244.06 L506.45,244.49 L508.36,244.91 L510.27,245.30 L512.18,245.69 L514.09,246.05 L516.00,246.40" fill="none" stroke="#dc2a2e" stroke-width="1.15"/>
<path d="M384.20,181.30 L386.11,181.30 L388.02,181.33 L389.93,181.38 L391.84,181.47 L393.75,181.60 L395.66,181.78 L397.57,182.02 L399.48,182.31 L401.39,182.67 L403.30,183.09 L405.21,183.58 L407.12,184.14 L409.03,184.76 L410.94,185.45 L412.85,186.21 L414.76,187.02 L416.67,187.90 L418.58,188.84 L420.49,189.83 L422.40,190.86 L424.31,191.95 L426.22,193.06 L428.13,194.21 L430.04,195.39 L431.95,196.59 L433.86,197.81 L435.77,199.04 L437.68,200.28 L439.59,201.51 L441.50,202.75 L443.41,203.98 L445.32,205.19 L447.23,206.40 L449.14,207.59 L451.06,208.75 L452.97,209.90 L454.88,211.02 L456.79,212.12 L458.70,213.19 L460.61,214.23 L462.52,215.24 L464.43,216.23 L466.34,217.18 L468.25,218.11 L470.16,219.00 L472.07,219.87 L473.98,220.70 L475.89,221.51 L477.80,222.29 L479.71,223.04 L481.62,223.77 L483.53,224.46 L485.44,225.14 L487.35,225.78 L489.26,226.41 L491.17,227.00 L493.08,227.58 L494.99,228.14 L496.90,228.67 L498.81,229.18 L500.72,229.67 L502.63,230.15 L504.54,230.60 L506.45,231.04 L508.36,231.46 L510.27,231.87 L512.18,232.26 L514.09,232.63 L516.00,232.99" fill="none" stroke="#2a2aa6" stroke-width="1.3" stroke-dasharray="3.5,1.8,1,1.8"/>
<path d="M450.10,222.72 V227.28 M448.90,222.72 H451.30 M448.90,227.28 H451.30" stroke="#bcbcbc" stroke-width="0.8" fill="none"/>
<circle cx="450.10" cy="225.00" r="1.90" fill="#fff" stroke="#bcbcbc" stroke-width="1"/>
<path d="M516.00,249.47 V252.51 M514.80,249.47 H517.20 M514.80,252.51 H517.20" stroke="#bcbcbc" stroke-width="0.8" fill="none"/>
<circle cx="516.00" cy="250.99" r="1.90" fill="#fff" stroke="#bcbcbc" stroke-width="1"/>
<path d="M450.10,213.22 V217.78 M448.90,213.22 H451.30 M448.90,217.78 H451.30" stroke="#858585" stroke-width="0.8" fill="none"/>
<path d="M450.10,213.10 L452.50,217.20 L447.70,217.20Z" fill="#d0d0d0" stroke="#858585" stroke-width="1.2"/>
<path d="M516.00,244.38 V247.42 M514.80,244.38 H517.20 M514.80,247.42 H517.20" stroke="#858585" stroke-width="0.8" fill="none"/>
<path d="M516.00,243.50 L518.40,247.60 L513.60,247.60Z" fill="#d0d0d0" stroke="#858585" stroke-width="1.2"/>
<path d="M400.68,188.14 V191.18 M399.48,188.14 H401.88 M399.48,191.18 H401.88" stroke="#151515" stroke-width="0.8" fill="none"/>
<path d="M398.72,188.22 L402.63,188.22 L400.68,191.70Z" fill="#151515"/>
<path d="M417.15,201.44 V206.00 M415.95,201.44 H418.35 M415.95,206.00 H418.35" stroke="#151515" stroke-width="0.8" fill="none"/>
<path d="M415.19,202.28 L419.10,202.28 L417.15,205.76Z" fill="#151515"/>
<path d="M450.10,230.24 V234.80 M448.90,230.24 H451.30 M448.90,234.80 H451.30" stroke="#151515" stroke-width="0.8" fill="none"/>
<path d="M448.15,231.08 L452.06,231.08 L450.10,234.56Z" fill="#151515"/>
<path d="M483.05,242.78 V245.82 M481.85,242.78 H484.25 M481.85,245.82 H484.25" stroke="#151515" stroke-width="0.8" fill="none"/>
<path d="M481.10,242.86 L485.00,242.86 L483.05,246.34Z" fill="#151515"/>
<path d="M516.00,247.42 V250.46 M514.80,247.42 H517.20 M514.80,250.46 H517.20" stroke="#151515" stroke-width="0.8" fill="none"/>
<path d="M514.04,247.50 L517.96,247.50 L516.00,250.98Z" fill="#151515"/>
<path d="M400.68,181.53 V186.09 M399.48,181.53 H401.88 M399.48,186.09 H401.88" stroke="#dc2a2e" stroke-width="0.8" fill="none"/>
<circle cx="400.68" cy="183.81" r="2.35" fill="#dc2a2e"/>
<path d="M417.15,189.66 V195.74 M415.95,189.66 H418.35 M415.95,195.74 H418.35" stroke="#dc2a2e" stroke-width="0.8" fill="none"/>
<circle cx="417.15" cy="192.70" r="2.35" fill="#dc2a2e"/>
<path d="M450.10,216.87 V224.47 M448.90,216.87 H451.30 M448.90,224.47 H451.30" stroke="#dc2a2e" stroke-width="0.8" fill="none"/>
<circle cx="450.10" cy="220.67" r="2.35" fill="#dc2a2e"/>
<path d="M483.05,234.80 V240.88 M481.85,234.80 H484.25 M481.85,240.88 H484.25" stroke="#dc2a2e" stroke-width="0.8" fill="none"/>
<circle cx="483.05" cy="237.84" r="2.35" fill="#dc2a2e"/>
<path d="M516.00,241.64 V247.72 M514.80,241.64 H517.20 M514.80,247.72 H517.20" stroke="#dc2a2e" stroke-width="0.8" fill="none"/>
<circle cx="516.00" cy="244.68" r="2.35" fill="#dc2a2e"/>
<path d="M400.68,173.70 V178.26 M399.48,173.70 H401.88 M399.48,178.26 H401.88" stroke="#1f26c4" stroke-width="0.8" fill="none"/>
<rect x="398.68" y="173.98" width="4.00" height="4.00" fill="#fff" stroke="#1f26c4" stroke-width="1.5"/>
<path d="M417.15,183.43 V187.99 M415.95,183.43 H418.35 M415.95,187.99 H418.35" stroke="#1f26c4" stroke-width="0.8" fill="none"/>
<rect x="415.15" y="183.71" width="4.00" height="4.00" fill="#fff" stroke="#1f26c4" stroke-width="1.5"/>
<path d="M450.10,197.49 V214.21 M448.90,197.49 H451.30 M448.90,214.21 H451.30" stroke="#1f26c4" stroke-width="0.8" fill="none"/>
<rect x="448.10" y="203.85" width="4.00" height="4.00" fill="#fff" stroke="#1f26c4" stroke-width="1.5"/>
<path d="M483.05,217.78 V229.94 M481.85,217.78 H484.25 M481.85,229.94 H484.25" stroke="#1f26c4" stroke-width="0.8" fill="none"/>
<rect x="481.05" y="221.86" width="4.00" height="4.00" fill="#fff" stroke="#1f26c4" stroke-width="1.5"/>
<path d="M516.00,230.09 V236.17 M514.80,230.09 H517.20 M514.80,236.17 H517.20" stroke="#1f26c4" stroke-width="0.8" fill="none"/>
<rect x="514.00" y="231.13" width="4.00" height="4.00" fill="#fff" stroke="#1f26c4" stroke-width="1.5"/>
<rect x="381.70" y="178.80" width="5" height="5" fill="#7a2070"/>
<path d="M384.20,170.00 V257.30 H516.60" fill="none" stroke="#2a2a2a" stroke-width="1.25"/>
<path d="M382.00,257.30 H384.20" stroke="#222" stroke-width="1.1"/>
<text x="381.20" y="259.90" font-size="7.2" font-weight="bold" text-anchor="end">0</text>
<path d="M382.00,219.30 H384.20" stroke="#222" stroke-width="1.1"/>
<text x="381.20" y="221.90" font-size="7.2" font-weight="bold" text-anchor="end">50</text>
<path d="M382.00,181.30 H384.20" stroke="#222" stroke-width="1.1"/>
<text x="381.20" y="183.90" font-size="7.2" font-weight="bold" text-anchor="end">100</text>
<path d="M382.30,249.70 H384.20" stroke="#222" stroke-width="1"/>
<path d="M382.30,242.10 H384.20" stroke="#222" stroke-width="1"/>
<path d="M382.30,234.50 H384.20" stroke="#222" stroke-width="1"/>
<path d="M382.30,226.90 H384.20" stroke="#222" stroke-width="1"/>
<path d="M382.30,211.70 H384.20" stroke="#222" stroke-width="1"/>
<path d="M382.30,204.10 H384.20" stroke="#222" stroke-width="1"/>
<path d="M382.30,196.50 H384.20" stroke="#222" stroke-width="1"/>
<path d="M382.30,188.90 H384.20" stroke="#222" stroke-width="1"/>
<path d="M382.30,173.70 H384.20" stroke="#222" stroke-width="1"/>
<path d="M384.20,257.30 V259.70" stroke="#222" stroke-width="1.1"/>
<text x="384.20" y="268.20" font-size="7.2" font-weight="bold" text-anchor="middle">0</text>
<path d="M417.15,257.30 V259.70" stroke="#222" stroke-width="1.1"/>
<text x="417.15" y="268.20" font-size="7.2" font-weight="bold" text-anchor="middle">5</text>
<path d="M450.10,257.30 V259.70" stroke="#222" stroke-width="1.1"/>
<text x="450.10" y="268.20" font-size="7.2" font-weight="bold" text-anchor="middle">10</text>
<path d="M483.05,257.30 V259.70" stroke="#222" stroke-width="1.1"/>
<text x="483.05" y="268.20" font-size="7.2" font-weight="bold" text-anchor="middle">15</text>
<path d="M516.00,257.30 V259.70" stroke="#222" stroke-width="1.1"/>
<text x="516.00" y="268.20" font-size="7.2" font-weight="bold" text-anchor="middle">20</text>
<path d="M390.79,257.30 V259.30" stroke="#222" stroke-width="1"/>
<path d="M397.38,257.30 V259.30" stroke="#222" stroke-width="1"/>
<path d="M403.97,257.30 V259.30" stroke="#222" stroke-width="1"/>
<path d="M410.56,257.30 V259.30" stroke="#222" stroke-width="1"/>
<path d="M417.15,257.30 V259.30" stroke="#222" stroke-width="1"/>
<path d="M423.74,257.30 V259.30" stroke="#222" stroke-width="1"/>
<path d="M430.33,257.30 V259.30" stroke="#222" stroke-width="1"/>
<path d="M436.92,257.30 V259.30" stroke="#222" stroke-width="1"/>
<path d="M443.51,257.30 V259.30" stroke="#222" stroke-width="1"/>
<path d="M450.10,257.30 V259.30" stroke="#222" stroke-width="1"/>
<path d="M456.69,257.30 V259.30" stroke="#222" stroke-width="1"/>
<path d="M463.28,257.30 V259.30" stroke="#222" stroke-width="1"/>
<path d="M469.87,257.30 V259.30" stroke="#222" stroke-width="1"/>
<path d="M476.46,257.30 V259.30" stroke="#222" stroke-width="1"/>
<path d="M483.05,257.30 V259.30" stroke="#222" stroke-width="1"/>
<path d="M489.64,257.30 V259.30" stroke="#222" stroke-width="1"/>
<path d="M496.23,257.30 V259.30" stroke="#222" stroke-width="1"/>
<path d="M502.82,257.30 V259.30" stroke="#222" stroke-width="1"/>
<path d="M509.41,257.30 V259.30" stroke="#222" stroke-width="1"/>
<text x="450.1" y="278.00" font-size="7.4" font-weight="bold" text-anchor="middle">Concentration (nmol/L)</text>
<text transform="translate(366.80,212.30) rotate(-90)" x="0" y="0" font-size="7.6" font-weight="bold" text-anchor="middle">Survival (%)</text>
<path d="M21,297.4 H47.5" stroke="#dc2a2e" stroke-width="1.2"/>
<circle cx="35.00" cy="297.40" r="2.47" fill="#dc2a2e"/>
<text x="55.4" y="300.1" font-size="9.6">Wild-type</text>
<path d="M109.4,297.4 H133" stroke="#2a2aa6" stroke-width="1.4" stroke-dasharray="4.6,3,1,3"/>
<rect x="120.70" y="295.10" width="4.60" height="4.60" fill="#fff" stroke="#1f26c4" stroke-width="1.5"/>
<text x="144" y="300.1" font-size="9.6"><tspan font-style="italic">Pole</tspan> D275A/E277A</text>
<path d="M234.7,297.4 H261.6" stroke="#858585" stroke-width="1"/>
<path d="M248.30,294.64 L251.06,299.35 L245.54,299.35Z" fill="#d0d0d0" stroke="#858585" stroke-width="1.2"/>
<text x="269.8" y="300.1" font-size="9.6"><tspan font-style="italic">Pole</tspan> P286R</text>
<path d="M334.7,297.4 H361" stroke="#151515" stroke-width="1.2" stroke-dasharray="2.7,2.6"/>
<path d="M345.70,295.40 L350.30,295.40 L348.00,299.50Z" fill="#151515"/>
<text x="369" y="300.1" font-size="9.6"><tspan font-style="italic">Pole</tspan> S297F</text>
<path d="M432,297.4 H460.3" stroke="#bcbcbc" stroke-width="1"/>
<circle cx="446.2" cy="297.4" r="2.4" fill="#e4e4e4" stroke="#a5a5a5" stroke-width="1"/>
<text x="466.5" y="300.1" font-size="9.6"><tspan font-style="italic">Pole</tspan> V411L</text>
</svg></body></html>
